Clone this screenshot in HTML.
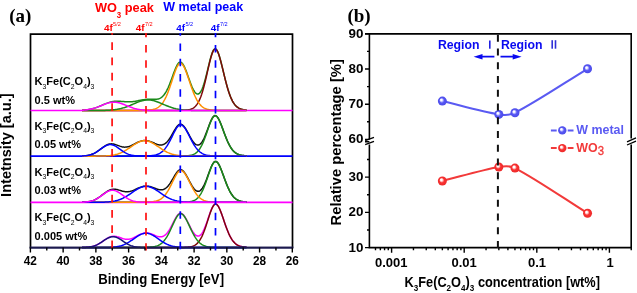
<!DOCTYPE html><html><head><meta charset="utf-8"><style>html,body{margin:0;padding:0;background:#fff;}svg{display:block;will-change:transform;}</style></head><body><svg width="637" height="293" viewBox="0 0 637 293">
<rect width="637" height="293" fill="#fff"/>
<path d="M30.5 247.6V34.1H292.5V247.6" fill="none" stroke="#000" stroke-width="1.7"/>
<line x1="29.7" y1="247.6" x2="293.3" y2="247.6" stroke="#1c1c5a" stroke-width="1.7"/>
<line x1="30.5" y1="110.55" x2="292.5" y2="110.55" stroke="#ff00ff" stroke-width="1.6"/>
<path d="M82.0 110.26L82.7 110.22L83.4 110.17L84.1 110.11L84.8 110.04L85.5 109.97L86.2 109.89L86.9 109.80L87.6 109.70L88.3 109.59L89.0 109.48L89.7 109.35L90.4 109.21L91.1 109.05L91.8 108.89L92.5 108.71L93.2 108.52L93.9 108.32L94.6 108.10L95.3 107.88L96.0 107.64L96.7 107.39L97.4 107.13L98.1 106.86L98.8 106.58L99.5 106.30L100.2 106.01L100.9 105.71L101.6 105.41L102.3 105.11L103.0 104.80L103.7 104.50L104.4 104.21L105.1 103.92L105.8 103.63L106.5 103.36L107.2 103.09L107.9 102.84L108.6 102.60L109.3 102.38L110.0 102.18L110.7 101.99L111.4 101.82L112.1 101.68L112.8 101.55L113.5 101.44L114.2 101.35L114.9 101.28L115.6 101.23L116.3 101.20L117.0 101.19L117.7 101.19L118.4 101.21L119.1 101.24L119.8 101.28L120.5 101.32L121.2 101.38L121.9 101.44L122.6 101.50L123.3 101.56L124.0 101.62L124.7 101.68L125.4 101.73L126.1 101.77L126.8 101.81L127.5 101.83L128.2 101.85L128.9 101.85L129.6 101.83L130.3 101.81L131.0 101.77L131.7 101.72L132.4 101.65L133.1 101.57L133.8 101.48L134.5 101.38L135.2 101.27L135.9 101.15L136.6 101.02L137.3 100.89L138.0 100.75L138.7 100.61L139.4 100.47L140.1 100.33L140.8 100.20L141.5 100.07L142.2 99.95L142.9 99.83L143.6 99.72L144.3 99.63L145.0 99.54L145.7 99.47L146.4 99.41L147.1 99.37L147.8 99.33L148.5 99.31L149.2 99.30L149.9 99.30L150.6 99.31L151.3 99.32L152.0 99.34L152.7 99.35L153.4 99.36L154.1 99.37L154.8 99.36L155.5 99.33L156.2 99.28L156.9 99.20L157.6 99.07L158.3 98.91L159.0 98.69L159.7 98.40L160.4 98.05L161.1 97.62L161.8 97.11L162.5 96.50L163.2 95.79L163.9 94.98L164.6 94.06L165.3 93.02L166.0 91.86L166.7 90.59L167.4 89.21L168.1 87.71L168.8 86.11L169.5 84.42L170.2 82.64L170.9 80.79L171.6 78.89L172.3 76.95L173.0 75.01L173.7 73.09L174.4 71.22L175.1 69.42L175.8 67.75L176.5 66.23L177.2 64.89L177.9 63.79L178.6 62.94L179.3 62.38L180.0 62.12L180.7 62.18L181.4 62.52L182.1 63.13L182.8 64.00L183.5 65.10L184.2 66.42L184.9 67.93L185.6 69.59L186.3 71.37L187.0 73.25L187.7 75.19L188.4 77.15L189.1 79.12L189.8 81.07L190.5 82.96L191.2 84.77L191.9 86.47L192.6 88.06L193.3 89.50L194.0 90.77L194.7 91.86L195.4 92.74L196.1 93.42L196.8 93.86L197.5 94.07L198.2 94.02L198.9 93.72L199.6 93.15L200.3 92.31L201.0 91.21L201.7 89.84L202.4 88.22L203.1 86.34L203.8 84.24L204.5 81.93L205.2 79.43L205.9 76.77L206.6 73.99L207.3 71.13L208.0 68.22L208.7 65.32L209.4 62.49L210.1 59.77L210.8 57.22L211.5 54.91L212.2 52.89L212.9 51.23L213.6 49.97L214.3 49.15L215.0 48.80L215.7 48.93L216.4 49.49L217.1 50.49L217.8 51.88L218.5 53.62L219.2 55.68L219.9 58.01L220.6 60.54L221.3 63.24L222.0 66.06L222.7 68.94L223.4 71.86L224.1 74.76L224.8 77.62L225.5 80.42L226.2 83.11L226.9 85.70L227.6 88.15L228.3 90.46L229.0 92.62L229.7 94.62L230.4 96.46L231.1 98.14L231.8 99.67L232.5 101.05L233.2 102.28L233.9 103.38L234.6 104.35L235.3 105.21L236.0 105.96L236.7 106.61L237.4 107.17L238.1 107.66L238.8 108.08L239.5 108.43L240.2 108.74L240.9 109.00L241.6 109.22L242.3 109.41L243.0 109.57L243.7 109.70L244.4 109.81L245.1 109.91L245.8 109.99L246.5 110.06" fill="none" stroke="#1a8a1a" stroke-width="1.5" stroke-linejoin="round"/>
<path d="M82.0 110.55L82.7 110.55L83.4 110.55L84.1 110.55L84.8 110.55L85.5 110.55L86.2 110.55L86.9 110.55L87.6 110.55L88.3 110.55L89.0 110.55L89.7 110.55L90.4 110.55L91.1 110.55L91.8 110.55L92.5 110.55L93.2 110.55L93.9 110.55L94.6 110.55L95.3 110.55L96.0 110.55L96.7 110.55L97.4 110.55L98.1 110.55L98.8 110.55L99.5 110.55L100.2 110.55L100.9 110.55L101.6 110.55L102.3 110.55L103.0 110.55L103.7 110.55L104.4 110.55L105.1 110.55L105.8 110.55L106.5 110.55L107.2 110.55L107.9 110.55L108.6 110.55L109.3 110.55L110.0 110.55L110.7 110.55L111.4 110.55L112.1 110.55L112.8 110.55L113.5 110.55L114.2 110.55L114.9 110.55L115.6 110.55L116.3 110.55L117.0 110.55L117.7 110.55L118.4 110.55L119.1 110.55L119.8 110.55L120.5 110.55L121.2 110.55L121.9 110.55L122.6 110.55L123.3 110.55L124.0 110.55L124.7 110.55L125.4 110.55L126.1 110.55L126.8 110.55L127.5 110.55L128.2 110.55L128.9 110.55L129.6 110.55L130.3 110.55L131.0 110.55L131.7 110.55L132.4 110.55L133.1 110.55L133.8 110.55L134.5 110.55L135.2 110.55L135.9 110.55L136.6 110.55L137.3 110.55L138.0 110.55L138.7 110.55L139.4 110.55L140.1 110.55L140.8 110.55L141.5 110.55L142.2 110.55L142.9 110.55L143.6 110.55L144.3 110.55L145.0 110.55L145.7 110.55L146.4 110.55L147.1 110.55L147.8 110.55L148.5 110.55L149.2 110.55L149.9 110.55L150.6 110.55L151.3 110.55L152.0 110.55L152.7 110.55L153.4 110.55L154.1 110.55L154.8 110.55L155.5 110.55L156.2 110.55L156.9 110.55L157.6 110.55L158.3 110.55L159.0 110.55L159.7 110.55L160.4 110.55L161.1 110.55L161.8 110.55L162.5 110.54L163.2 110.54L163.9 110.54L164.6 110.54L165.3 110.54L166.0 110.54L166.7 110.54L167.4 110.54L168.1 110.53L168.8 110.53L169.5 110.53L170.2 110.53L170.9 110.52L171.6 110.52L172.3 110.51L173.0 110.51L173.7 110.50L174.4 110.50L175.1 110.49L175.8 110.48L176.5 110.48L177.2 110.47L177.9 110.45L178.6 110.44L179.3 110.43L180.0 110.41L180.7 110.39L181.4 110.37L182.1 110.35L182.8 110.32L183.5 110.29L184.2 110.25L184.9 110.20L185.6 110.15L186.3 110.08L187.0 110.00L187.7 109.91L188.4 109.79L189.1 109.66L189.8 109.49L190.5 109.29L191.2 109.06L191.9 108.77L192.6 108.43L193.3 108.03L194.0 107.55L194.7 106.98L195.4 106.32L196.1 105.55L196.8 104.66L197.5 103.64L198.2 102.47L198.9 101.15L199.6 99.66L200.3 98.00L201.0 96.16L201.7 94.14L202.4 91.94L203.1 89.56L203.8 87.01L204.5 84.31L205.2 81.48L205.9 78.53L206.6 75.50L207.3 72.42L208.0 69.33L208.7 66.28L209.4 63.31L210.1 60.47L210.8 57.83L211.5 55.44L212.2 53.35L212.9 51.63L213.6 50.32L214.3 49.45L215.0 49.07L215.7 49.16L216.4 49.71L217.1 50.67L217.8 52.04L218.5 53.77L219.2 55.82L219.9 58.13L220.6 60.65L221.3 63.34L222.0 66.14L222.7 69.02L223.4 71.92L224.1 74.82L224.8 77.68L225.5 80.47L226.2 83.16L226.9 85.74L227.6 88.19L228.3 90.49L229.0 92.65L229.7 94.64L230.4 96.48L231.1 98.16L231.8 99.69L232.5 101.06L233.2 102.30L233.9 103.39L234.6 104.36L235.3 105.22L236.0 105.97L236.7 106.62L237.4 107.18L238.1 107.67L238.8 108.08L239.5 108.44L240.2 108.74L240.9 109.00L241.6 109.22L242.3 109.41L243.0 109.57L243.7 109.70L244.4 109.82L245.1 109.91L245.8 109.99L246.5 110.06" fill="none" stroke="#7e0808" stroke-width="1.5" stroke-linejoin="round"/>
<path d="M82.0 110.55L82.7 110.55L83.4 110.55L84.1 110.55L84.8 110.55L85.5 110.55L86.2 110.55L86.9 110.55L87.6 110.55L88.3 110.55L89.0 110.55L89.7 110.55L90.4 110.55L91.1 110.55L91.8 110.55L92.5 110.55L93.2 110.55L93.9 110.55L94.6 110.55L95.3 110.55L96.0 110.55L96.7 110.55L97.4 110.55L98.1 110.55L98.8 110.55L99.5 110.55L100.2 110.55L100.9 110.55L101.6 110.55L102.3 110.55L103.0 110.55L103.7 110.55L104.4 110.55L105.1 110.55L105.8 110.55L106.5 110.55L107.2 110.55L107.9 110.55L108.6 110.55L109.3 110.55L110.0 110.55L110.7 110.55L111.4 110.55L112.1 110.55L112.8 110.55L113.5 110.55L114.2 110.55L114.9 110.55L115.6 110.55L116.3 110.55L117.0 110.55L117.7 110.55L118.4 110.55L119.1 110.55L119.8 110.55L120.5 110.55L121.2 110.54L121.9 110.54L122.6 110.54L123.3 110.54L124.0 110.54L124.7 110.54L125.4 110.54L126.1 110.54L126.8 110.54L127.5 110.53L128.2 110.53L128.9 110.53L129.6 110.53L130.3 110.52L131.0 110.52L131.7 110.52L132.4 110.51L133.1 110.51L133.8 110.50L134.5 110.50L135.2 110.49L135.9 110.49L136.6 110.48L137.3 110.47L138.0 110.46L138.7 110.45L139.4 110.44L140.1 110.43L140.8 110.41L141.5 110.40L142.2 110.38L142.9 110.36L143.6 110.34L144.3 110.31L145.0 110.28L145.7 110.25L146.4 110.22L147.1 110.17L147.8 110.13L148.5 110.07L149.2 110.01L149.9 109.93L150.6 109.85L151.3 109.75L152.0 109.63L152.7 109.50L153.4 109.34L154.1 109.16L154.8 108.94L155.5 108.70L156.2 108.41L156.9 108.08L157.6 107.70L158.3 107.26L159.0 106.76L159.7 106.19L160.4 105.55L161.1 104.82L161.8 104.01L162.5 103.10L163.2 102.09L163.9 100.97L164.6 99.75L165.3 98.41L166.0 96.97L166.7 95.41L167.4 93.75L168.1 91.98L168.8 90.11L169.5 88.16L170.2 86.13L170.9 84.05L171.6 81.92L172.3 79.77L173.0 77.63L173.7 75.51L174.4 73.46L175.1 71.49L175.8 69.66L176.5 67.99L177.2 66.52L177.9 65.29L178.6 64.32L179.3 63.65L180.0 63.30L180.7 63.28L181.4 63.54L182.1 64.09L182.8 64.91L183.5 65.98L184.2 67.27L184.9 68.76L185.6 70.42L186.3 72.22L187.0 74.13L187.7 76.13L188.4 78.17L189.1 80.25L189.8 82.33L190.5 84.39L191.2 86.42L191.9 88.39L192.6 90.29L193.3 92.12L194.0 93.86L194.7 95.50L195.4 97.04L196.1 98.47L196.8 99.80L197.5 101.02L198.2 102.13L198.9 103.15L199.6 104.06L200.3 104.88L201.0 105.61L201.7 106.27L202.4 106.84L203.1 107.35L203.8 107.79L204.5 108.17L205.2 108.51L205.9 108.80L206.6 109.05L207.3 109.26L208.0 109.44L208.7 109.60L209.4 109.73L210.1 109.84L210.8 109.94L211.5 110.02L212.2 110.09L212.9 110.15L213.6 110.20L214.3 110.24L215.0 110.28L215.7 110.31L216.4 110.34L217.1 110.36L217.8 110.38L218.5 110.40L219.2 110.42L219.9 110.43L220.6 110.44L221.3 110.45L222.0 110.46L222.7 110.47L223.4 110.48L224.1 110.49L224.8 110.49L225.5 110.50L226.2 110.50L226.9 110.51L227.6 110.51L228.3 110.52L229.0 110.52L229.7 110.52L230.4 110.53L231.1 110.53L231.8 110.53L232.5 110.53L233.2 110.53L233.9 110.54L234.6 110.54L235.3 110.54L236.0 110.54L236.7 110.54L237.4 110.54L238.1 110.54L238.8 110.54L239.5 110.54L240.2 110.55L240.9 110.55L241.6 110.55L242.3 110.55L243.0 110.55L243.7 110.55L244.4 110.55L245.1 110.55L245.8 110.55L246.5 110.55" fill="none" stroke="#ff9000" stroke-width="1.5" stroke-linejoin="round"/>
<path d="M82.0 110.55L82.7 110.55L83.4 110.55L84.1 110.55L84.8 110.55L85.5 110.55L86.2 110.55L86.9 110.55L87.6 110.55L88.3 110.55L89.0 110.55L89.7 110.55L90.4 110.54L91.1 110.54L91.8 110.54L92.5 110.54L93.2 110.54L93.9 110.54L94.6 110.53L95.3 110.53L96.0 110.53L96.7 110.52L97.4 110.52L98.1 110.51L98.8 110.51L99.5 110.50L100.2 110.49L100.9 110.48L101.6 110.47L102.3 110.46L103.0 110.44L103.7 110.43L104.4 110.41L105.1 110.39L105.8 110.36L106.5 110.34L107.2 110.31L107.9 110.27L108.6 110.23L109.3 110.19L110.0 110.15L110.7 110.10L111.4 110.04L112.1 109.98L112.8 109.91L113.5 109.83L114.2 109.75L114.9 109.66L115.6 109.56L116.3 109.46L117.0 109.35L117.7 109.22L118.4 109.09L119.1 108.95L119.8 108.80L120.5 108.64L121.2 108.46L121.9 108.28L122.6 108.09L123.3 107.89L124.0 107.67L124.7 107.45L125.4 107.21L126.1 106.97L126.8 106.72L127.5 106.46L128.2 106.19L128.9 105.91L129.6 105.62L130.3 105.33L131.0 105.04L131.7 104.74L132.4 104.44L133.1 104.14L133.8 103.83L134.5 103.53L135.2 103.23L135.9 102.94L136.6 102.65L137.3 102.37L138.0 102.10L138.7 101.83L139.4 101.58L140.1 101.35L140.8 101.12L141.5 100.92L142.2 100.73L142.9 100.56L143.6 100.40L144.3 100.27L145.0 100.16L145.7 100.08L146.4 100.01L147.1 99.97L147.8 99.95L148.5 99.96L149.2 99.98L149.9 100.04L150.6 100.11L151.3 100.21L152.0 100.33L152.7 100.47L153.4 100.63L154.1 100.81L154.8 101.00L155.5 101.22L156.2 101.45L156.9 101.69L157.6 101.95L158.3 102.21L159.0 102.49L159.7 102.77L160.4 103.07L161.1 103.36L161.8 103.66L162.5 103.96L163.2 104.27L163.9 104.57L164.6 104.87L165.3 105.17L166.0 105.46L166.7 105.75L167.4 106.03L168.1 106.30L168.8 106.57L169.5 106.83L170.2 107.08L170.9 107.32L171.6 107.55L172.3 107.76L173.0 107.97L173.7 108.17L174.4 108.36L175.1 108.54L175.8 108.71L176.5 108.86L177.2 109.01L177.9 109.15L178.6 109.28L179.3 109.40L180.0 109.51L180.7 109.61L181.4 109.70L182.1 109.79L182.8 109.87L183.5 109.94L184.2 110.00L184.9 110.06L185.6 110.12L186.3 110.17L187.0 110.21L187.7 110.25L188.4 110.29L189.1 110.32L189.8 110.35L190.5 110.37L191.2 110.39L191.9 110.41L192.6 110.43L193.3 110.45L194.0 110.46L194.7 110.47L195.4 110.48L196.1 110.49L196.8 110.50L197.5 110.51L198.2 110.51L198.9 110.52L199.6 110.52L200.3 110.53L201.0 110.53L201.7 110.53L202.4 110.54L203.1 110.54L203.8 110.54L204.5 110.54L205.2 110.54L205.9 110.54L206.6 110.55L207.3 110.55L208.0 110.55L208.7 110.55L209.4 110.55L210.1 110.55L210.8 110.55L211.5 110.55L212.2 110.55L212.9 110.55L213.6 110.55L214.3 110.55L215.0 110.55L215.7 110.55L216.4 110.55L217.1 110.55L217.8 110.55L218.5 110.55L219.2 110.55L219.9 110.55L220.6 110.55L221.3 110.55L222.0 110.55L222.7 110.55L223.4 110.55L224.1 110.55L224.8 110.55L225.5 110.55L226.2 110.55L226.9 110.55L227.6 110.55L228.3 110.55L229.0 110.55L229.7 110.55L230.4 110.55L231.1 110.55L231.8 110.55L232.5 110.55L233.2 110.55L233.9 110.55L234.6 110.55L235.3 110.55L236.0 110.55L236.7 110.55L237.4 110.55L238.1 110.55L238.8 110.55L239.5 110.55L240.2 110.55L240.9 110.55L241.6 110.55L242.3 110.55L243.0 110.55L243.7 110.55L244.4 110.55L245.1 110.55L245.8 110.55L246.5 110.55" fill="none" stroke="#1a8a1a" stroke-width="1.5" stroke-linejoin="round"/>
<path d="M82.0 110.26L82.7 110.22L83.4 110.17L84.1 110.11L84.8 110.04L85.5 109.97L86.2 109.89L86.9 109.80L87.6 109.71L88.3 109.60L89.0 109.48L89.7 109.35L90.4 109.21L91.1 109.06L91.8 108.90L92.5 108.72L93.2 108.53L93.9 108.33L94.6 108.12L95.3 107.90L96.0 107.66L96.7 107.42L97.4 107.16L98.1 106.90L98.8 106.63L99.5 106.35L100.2 106.07L100.9 105.78L101.6 105.49L102.3 105.20L103.0 104.91L103.7 104.63L104.4 104.35L105.1 104.08L105.8 103.82L106.5 103.57L107.2 103.34L107.9 103.12L108.6 102.92L109.3 102.74L110.0 102.58L110.7 102.45L111.4 102.34L112.1 102.25L112.8 102.19L113.5 102.16L114.2 102.15L114.9 102.17L115.6 102.22L116.3 102.30L117.0 102.40L117.7 102.52L118.4 102.67L119.1 102.84L119.8 103.03L120.5 103.24L121.2 103.47L121.9 103.71L122.6 103.97L123.3 104.23L124.0 104.51L124.7 104.79L125.4 105.08L126.1 105.37L126.8 105.66L127.5 105.94L128.2 106.23L128.9 106.51L129.6 106.78L130.3 107.05L131.0 107.31L131.7 107.56L132.4 107.80L133.1 108.03L133.8 108.24L134.5 108.45L135.2 108.64L135.9 108.82L136.6 108.99L137.3 109.15L138.0 109.29L138.7 109.43L139.4 109.55L140.1 109.66L140.8 109.76L141.5 109.86L142.2 109.94L142.9 110.01L143.6 110.08L144.3 110.14L145.0 110.20L145.7 110.24L146.4 110.29L147.1 110.32L147.8 110.36L148.5 110.38L149.2 110.41L149.9 110.43L150.6 110.45L151.3 110.46L152.0 110.48L152.7 110.49L153.4 110.50L154.1 110.51L154.8 110.52L155.5 110.52L156.2 110.53L156.9 110.53L157.6 110.53L158.3 110.54L159.0 110.54L159.7 110.54L160.4 110.54L161.1 110.54L161.8 110.55L162.5 110.55L163.2 110.55L163.9 110.55L164.6 110.55L165.3 110.55L166.0 110.55L166.7 110.55L167.4 110.55L168.1 110.55L168.8 110.55L169.5 110.55L170.2 110.55L170.9 110.55L171.6 110.55L172.3 110.55L173.0 110.55L173.7 110.55L174.4 110.55L175.1 110.55L175.8 110.55L176.5 110.55L177.2 110.55L177.9 110.55L178.6 110.55L179.3 110.55L180.0 110.55L180.7 110.55L181.4 110.55L182.1 110.55L182.8 110.55L183.5 110.55L184.2 110.55L184.9 110.55L185.6 110.55L186.3 110.55L187.0 110.55L187.7 110.55L188.4 110.55L189.1 110.55L189.8 110.55L190.5 110.55L191.2 110.55L191.9 110.55L192.6 110.55L193.3 110.55L194.0 110.55L194.7 110.55L195.4 110.55L196.1 110.55L196.8 110.55L197.5 110.55L198.2 110.55L198.9 110.55L199.6 110.55L200.3 110.55L201.0 110.55L201.7 110.55L202.4 110.55L203.1 110.55L203.8 110.55L204.5 110.55L205.2 110.55L205.9 110.55L206.6 110.55L207.3 110.55L208.0 110.55L208.7 110.55L209.4 110.55L210.1 110.55L210.8 110.55L211.5 110.55L212.2 110.55L212.9 110.55L213.6 110.55L214.3 110.55L215.0 110.55L215.7 110.55L216.4 110.55L217.1 110.55L217.8 110.55L218.5 110.55L219.2 110.55L219.9 110.55L220.6 110.55L221.3 110.55L222.0 110.55L222.7 110.55L223.4 110.55L224.1 110.55L224.8 110.55L225.5 110.55L226.2 110.55L226.9 110.55L227.6 110.55L228.3 110.55L229.0 110.55L229.7 110.55L230.4 110.55L231.1 110.55L231.8 110.55L232.5 110.55L233.2 110.55L233.9 110.55L234.6 110.55L235.3 110.55L236.0 110.55L236.7 110.55L237.4 110.55L238.1 110.55L238.8 110.55L239.5 110.55L240.2 110.55L240.9 110.55L241.6 110.55L242.3 110.55L243.0 110.55L243.7 110.55L244.4 110.55L245.1 110.55L245.8 110.55L246.5 110.55" fill="none" stroke="#ff00ff" stroke-width="1.5" stroke-linejoin="round"/>
<line x1="30.5" y1="156.15" x2="292.5" y2="156.15" stroke="#0000ff" stroke-width="1.6"/>
<path d="M82.0 156.00L82.7 155.96L83.4 155.92L84.1 155.87L84.8 155.81L85.5 155.74L86.2 155.65L86.9 155.55L87.6 155.44L88.3 155.31L89.0 155.16L89.7 154.99L90.4 154.79L91.1 154.58L91.8 154.33L92.5 154.06L93.2 153.77L93.9 153.44L94.6 153.09L95.3 152.71L96.0 152.30L96.7 151.87L97.4 151.41L98.1 150.94L98.8 150.44L99.5 149.93L100.2 149.41L100.9 148.88L101.6 148.36L102.3 147.84L103.0 147.32L103.7 146.83L104.4 146.36L105.1 145.91L105.8 145.50L106.5 145.13L107.2 144.80L107.9 144.51L108.6 144.28L109.3 144.09L110.0 143.96L110.7 143.88L111.4 143.86L112.1 143.88L112.8 143.95L113.5 144.07L114.2 144.22L114.9 144.41L115.6 144.62L116.3 144.86L117.0 145.12L117.7 145.38L118.4 145.64L119.1 145.90L119.8 146.15L120.5 146.38L121.2 146.59L121.9 146.76L122.6 146.91L123.3 147.02L124.0 147.10L124.7 147.13L125.4 147.12L126.1 147.08L126.8 146.98L127.5 146.85L128.2 146.68L128.9 146.48L129.6 146.24L130.3 145.97L131.0 145.67L131.7 145.35L132.4 145.02L133.1 144.67L133.8 144.31L134.5 143.94L135.2 143.57L135.9 143.21L136.6 142.86L137.3 142.51L138.0 142.19L138.7 141.88L139.4 141.60L140.1 141.34L140.8 141.11L141.5 140.92L142.2 140.75L142.9 140.63L143.6 140.54L144.3 140.48L145.0 140.47L145.7 140.49L146.4 140.55L147.1 140.64L147.8 140.77L148.5 140.93L149.2 141.13L149.9 141.35L150.6 141.59L151.3 141.86L152.0 142.14L152.7 142.44L153.4 142.75L154.1 143.06L154.8 143.37L155.5 143.66L156.2 143.95L156.9 144.21L157.6 144.45L158.3 144.66L159.0 144.82L159.7 144.94L160.4 145.00L161.1 145.00L161.8 144.94L162.5 144.80L163.2 144.59L163.9 144.29L164.6 143.91L165.3 143.43L166.0 142.87L166.7 142.21L167.4 141.47L168.1 140.63L168.8 139.71L169.5 138.72L170.2 137.65L170.9 136.52L171.6 135.35L172.3 134.13L173.0 132.90L173.7 131.67L174.4 130.45L175.1 129.28L175.8 128.17L176.5 127.15L177.2 126.24L177.9 125.47L178.6 124.86L179.3 124.44L180.0 124.21L180.7 124.19L181.4 124.35L182.1 124.70L182.8 125.23L183.5 125.91L184.2 126.74L184.9 127.69L185.6 128.75L186.3 129.91L187.0 131.13L187.7 132.39L188.4 133.68L189.1 134.98L189.8 136.26L190.5 137.52L191.2 138.72L191.9 139.86L192.6 140.92L193.3 141.89L194.0 142.75L194.7 143.49L195.4 144.10L196.1 144.57L196.8 144.89L197.5 145.05L198.2 145.05L198.9 144.87L199.6 144.52L200.3 143.99L201.0 143.29L201.7 142.41L202.4 141.35L203.1 140.14L203.8 138.77L204.5 137.27L205.2 135.64L205.9 133.90L206.6 132.08L207.3 130.21L208.0 128.31L208.7 126.41L209.4 124.55L210.1 122.76L210.8 121.10L211.5 119.58L212.2 118.26L212.9 117.17L213.6 116.34L214.3 115.80L215.0 115.58L215.7 115.66L216.4 116.04L217.1 116.69L217.8 117.60L218.5 118.75L219.2 120.10L219.9 121.63L220.6 123.30L221.3 125.07L222.0 126.92L222.7 128.82L223.4 130.73L224.1 132.64L224.8 134.52L225.5 136.35L226.2 138.13L226.9 139.82L227.6 141.43L228.3 142.95L229.0 144.37L229.7 145.68L230.4 146.89L231.1 148.00L231.8 149.00L232.5 149.91L233.2 150.72L233.9 151.44L234.6 152.08L235.3 152.64L236.0 153.13L236.7 153.56L237.4 153.93L238.1 154.25L238.8 154.53L239.5 154.76L240.2 154.96L240.9 155.13L241.6 155.28L242.3 155.40L243.0 155.50L243.7 155.59L244.4 155.67L245.1 155.73L245.8 155.78L246.5 155.83" fill="none" stroke="#111111" stroke-width="1.5" stroke-linejoin="round"/>
<path d="M82.0 156.15L82.7 156.15L83.4 156.15L84.1 156.15L84.8 156.15L85.5 156.15L86.2 156.15L86.9 156.15L87.6 156.15L88.3 156.15L89.0 156.15L89.7 156.15L90.4 156.15L91.1 156.15L91.8 156.15L92.5 156.15L93.2 156.15L93.9 156.15L94.6 156.15L95.3 156.15L96.0 156.15L96.7 156.15L97.4 156.15L98.1 156.15L98.8 156.15L99.5 156.15L100.2 156.15L100.9 156.15L101.6 156.15L102.3 156.15L103.0 156.15L103.7 156.15L104.4 156.15L105.1 156.15L105.8 156.15L106.5 156.15L107.2 156.15L107.9 156.15L108.6 156.15L109.3 156.15L110.0 156.15L110.7 156.15L111.4 156.15L112.1 156.15L112.8 156.15L113.5 156.15L114.2 156.15L114.9 156.15L115.6 156.15L116.3 156.15L117.0 156.15L117.7 156.15L118.4 156.15L119.1 156.15L119.8 156.15L120.5 156.15L121.2 156.15L121.9 156.15L122.6 156.15L123.3 156.15L124.0 156.15L124.7 156.15L125.4 156.15L126.1 156.15L126.8 156.15L127.5 156.15L128.2 156.15L128.9 156.15L129.6 156.15L130.3 156.15L131.0 156.15L131.7 156.15L132.4 156.15L133.1 156.15L133.8 156.15L134.5 156.15L135.2 156.15L135.9 156.15L136.6 156.15L137.3 156.15L138.0 156.15L138.7 156.15L139.4 156.15L140.1 156.15L140.8 156.15L141.5 156.15L142.2 156.15L142.9 156.15L143.6 156.15L144.3 156.15L145.0 156.15L145.7 156.15L146.4 156.15L147.1 156.15L147.8 156.15L148.5 156.15L149.2 156.15L149.9 156.15L150.6 156.15L151.3 156.15L152.0 156.15L152.7 156.15L153.4 156.15L154.1 156.15L154.8 156.15L155.5 156.15L156.2 156.15L156.9 156.15L157.6 156.15L158.3 156.15L159.0 156.15L159.7 156.15L160.4 156.15L161.1 156.15L161.8 156.15L162.5 156.15L163.2 156.15L163.9 156.15L164.6 156.14L165.3 156.14L166.0 156.14L166.7 156.14L167.4 156.14L168.1 156.14L168.8 156.14L169.5 156.14L170.2 156.13L170.9 156.13L171.6 156.13L172.3 156.13L173.0 156.12L173.7 156.12L174.4 156.12L175.1 156.11L175.8 156.11L176.5 156.10L177.2 156.09L177.9 156.09L178.6 156.08L179.3 156.07L180.0 156.06L180.7 156.05L181.4 156.03L182.1 156.02L182.8 156.00L183.5 155.98L184.2 155.95L184.9 155.92L185.6 155.89L186.3 155.84L187.0 155.79L187.7 155.73L188.4 155.65L189.1 155.56L189.8 155.46L190.5 155.33L191.2 155.17L191.9 154.98L192.6 154.76L193.3 154.49L194.0 154.18L194.7 153.81L195.4 153.37L196.1 152.87L196.8 152.28L197.5 151.61L198.2 150.84L198.9 149.98L199.6 149.00L200.3 147.91L201.0 146.70L201.7 145.37L202.4 143.92L203.1 142.36L203.8 140.69L204.5 138.91L205.2 137.05L205.9 135.12L206.6 133.13L207.3 131.10L208.0 129.07L208.7 127.07L209.4 125.12L210.1 123.25L210.8 121.52L211.5 119.95L212.2 118.58L212.9 117.44L213.6 116.58L214.3 116.02L215.0 115.76L215.7 115.83L216.4 116.18L217.1 116.82L217.8 117.72L218.5 118.85L219.2 120.19L219.9 121.71L220.6 123.37L221.3 125.14L222.0 126.98L222.7 128.87L223.4 130.78L224.1 132.68L224.8 134.56L225.5 136.39L226.2 138.16L226.9 139.85L227.6 141.46L228.3 142.97L229.0 144.39L229.7 145.70L230.4 146.91L231.1 148.01L231.8 149.01L232.5 149.92L233.2 150.73L233.9 151.45L234.6 152.09L235.3 152.65L236.0 153.14L236.7 153.57L237.4 153.94L238.1 154.26L238.8 154.53L239.5 154.76L240.2 154.96L240.9 155.13L241.6 155.28L242.3 155.40L243.0 155.51L243.7 155.59L244.4 155.67L245.1 155.73L245.8 155.78L246.5 155.83" fill="none" stroke="#1a8a1a" stroke-width="1.5" stroke-linejoin="round"/>
<path d="M82.0 156.15L82.7 156.15L83.4 156.15L84.1 156.15L84.8 156.15L85.5 156.15L86.2 156.15L86.9 156.15L87.6 156.15L88.3 156.15L89.0 156.15L89.7 156.15L90.4 156.15L91.1 156.15L91.8 156.15L92.5 156.15L93.2 156.15L93.9 156.15L94.6 156.15L95.3 156.15L96.0 156.15L96.7 156.15L97.4 156.15L98.1 156.15L98.8 156.15L99.5 156.15L100.2 156.15L100.9 156.15L101.6 156.15L102.3 156.15L103.0 156.15L103.7 156.15L104.4 156.15L105.1 156.15L105.8 156.15L106.5 156.15L107.2 156.15L107.9 156.15L108.6 156.15L109.3 156.15L110.0 156.15L110.7 156.15L111.4 156.15L112.1 156.15L112.8 156.15L113.5 156.15L114.2 156.15L114.9 156.15L115.6 156.15L116.3 156.15L117.0 156.15L117.7 156.15L118.4 156.15L119.1 156.15L119.8 156.15L120.5 156.15L121.2 156.15L121.9 156.15L122.6 156.15L123.3 156.14L124.0 156.14L124.7 156.14L125.4 156.14L126.1 156.14L126.8 156.14L127.5 156.14L128.2 156.14L128.9 156.14L129.6 156.14L130.3 156.13L131.0 156.13L131.7 156.13L132.4 156.13L133.1 156.12L133.8 156.12L134.5 156.12L135.2 156.11L135.9 156.11L136.6 156.10L137.3 156.10L138.0 156.09L138.7 156.09L139.4 156.08L140.1 156.07L140.8 156.06L141.5 156.05L142.2 156.04L142.9 156.03L143.6 156.01L144.3 156.00L145.0 155.98L145.7 155.96L146.4 155.94L147.1 155.91L147.8 155.88L148.5 155.84L149.2 155.80L149.9 155.75L150.6 155.70L151.3 155.64L152.0 155.56L152.7 155.48L153.4 155.38L154.1 155.26L154.8 155.13L155.5 154.97L156.2 154.79L156.9 154.57L157.6 154.33L158.3 154.05L159.0 153.73L159.7 153.37L160.4 152.96L161.1 152.49L161.8 151.97L162.5 151.38L163.2 150.73L163.9 150.01L164.6 149.22L165.3 148.35L166.0 147.41L166.7 146.40L167.4 145.32L168.1 144.16L168.8 142.94L169.5 141.66L170.2 140.33L170.9 138.96L171.6 137.55L172.3 136.13L173.0 134.70L173.7 133.29L174.4 131.91L175.1 130.59L175.8 129.34L176.5 128.20L177.2 127.18L177.9 126.32L178.6 125.62L179.3 125.12L180.0 124.83L180.7 124.75L181.4 124.88L182.1 125.19L182.8 125.68L183.5 126.34L184.2 127.16L184.9 128.11L185.6 129.19L186.3 130.36L187.0 131.61L187.7 132.92L188.4 134.27L189.1 135.64L189.8 137.02L190.5 138.39L191.2 139.75L191.9 141.07L192.6 142.35L193.3 143.58L194.0 144.75L194.7 145.85L195.4 146.90L196.1 147.87L196.8 148.77L197.5 149.60L198.2 150.36L198.9 151.05L199.6 151.67L200.3 152.24L201.0 152.74L201.7 153.19L202.4 153.58L203.1 153.93L203.8 154.24L204.5 154.50L205.2 154.74L205.9 154.94L206.6 155.11L207.3 155.26L208.0 155.38L208.7 155.49L209.4 155.58L210.1 155.66L210.8 155.73L211.5 155.79L212.2 155.83L212.9 155.87L213.6 155.91L214.3 155.94L215.0 155.96L215.7 155.99L216.4 156.01L217.1 156.02L217.8 156.04L218.5 156.05L219.2 156.06L219.9 156.07L220.6 156.08L221.3 156.08L222.0 156.09L222.7 156.10L223.4 156.10L224.1 156.11L224.8 156.11L225.5 156.12L226.2 156.12L226.9 156.12L227.6 156.12L228.3 156.13L229.0 156.13L229.7 156.13L230.4 156.13L231.1 156.14L231.8 156.14L232.5 156.14L233.2 156.14L233.9 156.14L234.6 156.14L235.3 156.14L236.0 156.14L236.7 156.14L237.4 156.14L238.1 156.15L238.8 156.15L239.5 156.15L240.2 156.15L240.9 156.15L241.6 156.15L242.3 156.15L243.0 156.15L243.7 156.15L244.4 156.15L245.1 156.15L245.8 156.15L246.5 156.15" fill="none" stroke="#0000ff" stroke-width="1.5" stroke-linejoin="round"/>
<path d="M82.0 156.15L82.7 156.15L83.4 156.15L84.1 156.15L84.8 156.15L85.5 156.15L86.2 156.15L86.9 156.15L87.6 156.15L88.3 156.15L89.0 156.15L89.7 156.15L90.4 156.14L91.1 156.14L91.8 156.14L92.5 156.14L93.2 156.14L93.9 156.14L94.6 156.13L95.3 156.13L96.0 156.12L96.7 156.12L97.4 156.11L98.1 156.11L98.8 156.10L99.5 156.09L100.2 156.08L100.9 156.06L101.6 156.05L102.3 156.03L103.0 156.01L103.7 155.99L104.4 155.96L105.1 155.93L105.8 155.89L106.5 155.85L107.2 155.81L107.9 155.75L108.6 155.70L109.3 155.63L110.0 155.56L110.7 155.47L111.4 155.38L112.1 155.28L112.8 155.16L113.5 155.04L114.2 154.90L114.9 154.75L115.6 154.58L116.3 154.40L117.0 154.21L117.7 154.00L118.4 153.77L119.1 153.52L119.8 153.26L120.5 152.98L121.2 152.68L121.9 152.36L122.6 152.02L123.3 151.66L124.0 151.29L124.7 150.90L125.4 150.50L126.1 150.08L126.8 149.64L127.5 149.19L128.2 148.73L128.9 148.27L129.6 147.79L130.3 147.31L131.0 146.83L131.7 146.34L132.4 145.86L133.1 145.38L133.8 144.91L134.5 144.46L135.2 144.01L135.9 143.58L136.6 143.17L137.3 142.79L138.0 142.42L138.7 142.09L139.4 141.79L140.1 141.51L140.8 141.28L141.5 141.07L142.2 140.91L142.9 140.79L143.6 140.70L144.3 140.66L145.0 140.65L145.7 140.69L146.4 140.77L147.1 140.89L147.8 141.05L148.5 141.24L149.2 141.48L149.9 141.74L150.6 142.04L151.3 142.37L152.0 142.73L152.7 143.12L153.4 143.52L154.1 143.95L154.8 144.39L155.5 144.85L156.2 145.32L156.9 145.79L157.6 146.27L158.3 146.76L159.0 147.24L159.7 147.72L160.4 148.20L161.1 148.67L161.8 149.13L162.5 149.58L163.2 150.01L163.9 150.44L164.6 150.85L165.3 151.24L166.0 151.61L166.7 151.97L167.4 152.31L168.1 152.63L168.8 152.93L169.5 153.22L170.2 153.48L170.9 153.73L171.6 153.97L172.3 154.18L173.0 154.38L173.7 154.56L174.4 154.73L175.1 154.88L175.8 155.02L176.5 155.15L177.2 155.26L177.9 155.37L178.6 155.46L179.3 155.54L180.0 155.62L180.7 155.69L181.4 155.75L182.1 155.80L182.8 155.85L183.5 155.89L184.2 155.92L184.9 155.96L185.6 155.98L186.3 156.01L187.0 156.03L187.7 156.05L188.4 156.06L189.1 156.08L189.8 156.09L190.5 156.10L191.2 156.11L191.9 156.11L192.6 156.12L193.3 156.12L194.0 156.13L194.7 156.13L195.4 156.14L196.1 156.14L196.8 156.14L197.5 156.14L198.2 156.14L198.9 156.14L199.6 156.15L200.3 156.15L201.0 156.15L201.7 156.15L202.4 156.15L203.1 156.15L203.8 156.15L204.5 156.15L205.2 156.15L205.9 156.15L206.6 156.15L207.3 156.15L208.0 156.15L208.7 156.15L209.4 156.15L210.1 156.15L210.8 156.15L211.5 156.15L212.2 156.15L212.9 156.15L213.6 156.15L214.3 156.15L215.0 156.15L215.7 156.15L216.4 156.15L217.1 156.15L217.8 156.15L218.5 156.15L219.2 156.15L219.9 156.15L220.6 156.15L221.3 156.15L222.0 156.15L222.7 156.15L223.4 156.15L224.1 156.15L224.8 156.15L225.5 156.15L226.2 156.15L226.9 156.15L227.6 156.15L228.3 156.15L229.0 156.15L229.7 156.15L230.4 156.15L231.1 156.15L231.8 156.15L232.5 156.15L233.2 156.15L233.9 156.15L234.6 156.15L235.3 156.15L236.0 156.15L236.7 156.15L237.4 156.15L238.1 156.15L238.8 156.15L239.5 156.15L240.2 156.15L240.9 156.15L241.6 156.15L242.3 156.15L243.0 156.15L243.7 156.15L244.4 156.15L245.1 156.15L245.8 156.15L246.5 156.15" fill="none" stroke="#ff9000" stroke-width="1.5" stroke-linejoin="round"/>
<path d="M82.0 156.00L82.7 155.96L83.4 155.92L84.1 155.87L84.8 155.81L85.5 155.74L86.2 155.65L86.9 155.56L87.6 155.44L88.3 155.31L89.0 155.16L89.7 154.99L90.4 154.80L91.1 154.58L91.8 154.34L92.5 154.07L93.2 153.78L93.9 153.46L94.6 153.11L95.3 152.73L96.0 152.33L96.7 151.90L97.4 151.45L98.1 150.98L98.8 150.49L99.5 149.99L100.2 149.48L100.9 148.97L101.6 148.46L102.3 147.95L103.0 147.46L103.7 146.99L104.4 146.55L105.1 146.13L105.8 145.76L106.5 145.42L107.2 145.14L107.9 144.91L108.6 144.73L109.3 144.61L110.0 144.56L110.7 144.56L111.4 144.63L112.1 144.75L112.8 144.94L113.5 145.18L114.2 145.47L114.9 145.81L115.6 146.19L116.3 146.61L117.0 147.06L117.7 147.53L118.4 148.03L119.1 148.53L119.8 149.04L120.5 149.56L121.2 150.06L121.9 150.56L122.6 151.05L123.3 151.52L124.0 151.96L124.7 152.39L125.4 152.79L126.1 153.16L126.8 153.50L127.5 153.82L128.2 154.11L128.9 154.38L129.6 154.61L130.3 154.83L131.0 155.02L131.7 155.18L132.4 155.33L133.1 155.46L133.8 155.57L134.5 155.67L135.2 155.75L135.9 155.82L136.6 155.88L137.3 155.93L138.0 155.97L138.7 156.00L139.4 156.03L140.1 156.06L140.8 156.08L141.5 156.09L142.2 156.10L142.9 156.11L143.6 156.12L144.3 156.13L145.0 156.13L145.7 156.14L146.4 156.14L147.1 156.14L147.8 156.14L148.5 156.15L149.2 156.15L149.9 156.15L150.6 156.15L151.3 156.15L152.0 156.15L152.7 156.15L153.4 156.15L154.1 156.15L154.8 156.15L155.5 156.15L156.2 156.15L156.9 156.15L157.6 156.15L158.3 156.15L159.0 156.15L159.7 156.15L160.4 156.15L161.1 156.15L161.8 156.15L162.5 156.15L163.2 156.15L163.9 156.15L164.6 156.15L165.3 156.15L166.0 156.15L166.7 156.15L167.4 156.15L168.1 156.15L168.8 156.15L169.5 156.15L170.2 156.15L170.9 156.15L171.6 156.15L172.3 156.15L173.0 156.15L173.7 156.15L174.4 156.15L175.1 156.15L175.8 156.15L176.5 156.15L177.2 156.15L177.9 156.15L178.6 156.15L179.3 156.15L180.0 156.15L180.7 156.15L181.4 156.15L182.1 156.15L182.8 156.15L183.5 156.15L184.2 156.15L184.9 156.15L185.6 156.15L186.3 156.15L187.0 156.15L187.7 156.15L188.4 156.15L189.1 156.15L189.8 156.15L190.5 156.15L191.2 156.15L191.9 156.15L192.6 156.15L193.3 156.15L194.0 156.15L194.7 156.15L195.4 156.15L196.1 156.15L196.8 156.15L197.5 156.15L198.2 156.15L198.9 156.15L199.6 156.15L200.3 156.15L201.0 156.15L201.7 156.15L202.4 156.15L203.1 156.15L203.8 156.15L204.5 156.15L205.2 156.15L205.9 156.15L206.6 156.15L207.3 156.15L208.0 156.15L208.7 156.15L209.4 156.15L210.1 156.15L210.8 156.15L211.5 156.15L212.2 156.15L212.9 156.15L213.6 156.15L214.3 156.15L215.0 156.15L215.7 156.15L216.4 156.15L217.1 156.15L217.8 156.15L218.5 156.15L219.2 156.15L219.9 156.15L220.6 156.15L221.3 156.15L222.0 156.15L222.7 156.15L223.4 156.15L224.1 156.15L224.8 156.15L225.5 156.15L226.2 156.15L226.9 156.15L227.6 156.15L228.3 156.15L229.0 156.15L229.7 156.15L230.4 156.15L231.1 156.15L231.8 156.15L232.5 156.15L233.2 156.15L233.9 156.15L234.6 156.15L235.3 156.15L236.0 156.15L236.7 156.15L237.4 156.15L238.1 156.15L238.8 156.15L239.5 156.15L240.2 156.15L240.9 156.15L241.6 156.15L242.3 156.15L243.0 156.15L243.7 156.15L244.4 156.15L245.1 156.15L245.8 156.15L246.5 156.15" fill="none" stroke="#0000ff" stroke-width="1.5" stroke-linejoin="round"/>
<line x1="30.5" y1="202.35" x2="292.5" y2="202.35" stroke="#ff00ff" stroke-width="1.6"/>
<path d="M82.0 202.23L82.7 202.20L83.4 202.17L84.1 202.12L84.8 202.08L85.5 202.02L86.2 201.95L86.9 201.87L87.6 201.78L88.3 201.68L89.0 201.55L89.7 201.41L90.4 201.26L91.1 201.08L91.8 200.88L92.5 200.65L93.2 200.41L93.9 200.13L94.6 199.83L95.3 199.50L96.0 199.15L96.7 198.77L97.4 198.36L98.1 197.93L98.8 197.48L99.5 197.00L100.2 196.51L100.9 196.00L101.6 195.47L102.3 194.94L103.0 194.41L103.7 193.88L104.4 193.36L105.1 192.84L105.8 192.35L106.5 191.87L107.2 191.43L107.9 191.01L108.6 190.63L109.3 190.30L110.0 190.00L110.7 189.75L111.4 189.55L112.1 189.40L112.8 189.29L113.5 189.23L114.2 189.22L114.9 189.26L115.6 189.33L116.3 189.44L117.0 189.58L117.7 189.74L118.4 189.93L119.1 190.14L119.8 190.35L120.5 190.56L121.2 190.77L121.9 190.98L122.6 191.17L123.3 191.34L124.0 191.49L124.7 191.61L125.4 191.69L126.1 191.75L126.8 191.77L127.5 191.76L128.2 191.70L128.9 191.62L129.6 191.49L130.3 191.34L131.0 191.15L131.7 190.93L132.4 190.68L133.1 190.42L133.8 190.13L134.5 189.83L135.2 189.51L135.9 189.19L136.6 188.87L137.3 188.55L138.0 188.24L138.7 187.93L139.4 187.64L140.1 187.36L140.8 187.11L141.5 186.88L142.2 186.67L142.9 186.50L143.6 186.35L144.3 186.24L145.0 186.16L145.7 186.12L146.4 186.11L147.1 186.13L147.8 186.19L148.5 186.28L149.2 186.41L149.9 186.56L150.6 186.74L151.3 186.95L152.0 187.17L152.7 187.42L153.4 187.68L154.1 187.94L154.8 188.21L155.5 188.48L156.2 188.75L156.9 188.99L157.6 189.22L158.3 189.42L159.0 189.59L159.7 189.72L160.4 189.80L161.1 189.83L161.8 189.79L162.5 189.69L163.2 189.52L163.9 189.27L164.6 188.93L165.3 188.51L166.0 188.00L166.7 187.40L167.4 186.71L168.1 185.93L168.8 185.06L169.5 184.12L170.2 183.10L170.9 182.02L171.6 180.89L172.3 179.71L173.0 178.51L173.7 177.31L174.4 176.11L175.1 174.95L175.8 173.84L176.5 172.82L177.2 171.90L177.9 171.11L178.6 170.48L179.3 170.03L180.0 169.77L180.7 169.71L181.4 169.85L182.1 170.18L182.8 170.68L183.5 171.35L184.2 172.16L184.9 173.12L185.6 174.18L186.3 175.34L187.0 176.57L187.7 177.86L188.4 179.17L189.1 180.50L189.8 181.82L190.5 183.11L191.2 184.36L191.9 185.55L192.6 186.67L193.3 187.70L194.0 188.62L194.7 189.43L195.4 190.11L196.1 190.65L196.8 191.04L197.5 191.28L198.2 191.35L198.9 191.26L199.6 190.99L200.3 190.54L201.0 189.92L201.7 189.11L202.4 188.14L203.1 186.99L203.8 185.69L204.5 184.24L205.2 182.65L205.9 180.95L206.6 179.15L207.3 177.28L208.0 175.36L208.7 173.43L209.4 171.53L210.1 169.67L210.8 167.91L211.5 166.29L212.2 164.83L212.9 163.59L213.6 162.60L214.3 161.89L215.0 161.47L215.7 161.38L216.4 161.59L217.1 162.09L217.8 162.87L218.5 163.89L219.2 165.15L219.9 166.59L220.6 168.20L221.3 169.93L222.0 171.76L222.7 173.65L223.4 175.57L224.1 177.51L224.8 179.42L225.5 181.31L226.2 183.13L226.9 184.89L227.6 186.57L228.3 188.16L229.0 189.65L229.7 191.03L230.4 192.32L231.1 193.49L231.8 194.56L232.5 195.54L233.2 196.41L233.9 197.19L234.6 197.88L235.3 198.49L236.0 199.03L236.7 199.49L237.4 199.90L238.1 200.25L238.8 200.56L239.5 200.82L240.2 201.04L240.9 201.23L241.6 201.39L242.3 201.52L243.0 201.64L243.7 201.74L244.4 201.82L245.1 201.89L245.8 201.95L246.5 202.00" fill="none" stroke="#111111" stroke-width="1.5" stroke-linejoin="round"/>
<path d="M82.0 202.35L82.7 202.35L83.4 202.35L84.1 202.35L84.8 202.35L85.5 202.35L86.2 202.35L86.9 202.35L87.6 202.35L88.3 202.35L89.0 202.35L89.7 202.35L90.4 202.35L91.1 202.35L91.8 202.35L92.5 202.35L93.2 202.35L93.9 202.35L94.6 202.35L95.3 202.35L96.0 202.35L96.7 202.35L97.4 202.35L98.1 202.35L98.8 202.35L99.5 202.35L100.2 202.35L100.9 202.35L101.6 202.35L102.3 202.35L103.0 202.35L103.7 202.35L104.4 202.35L105.1 202.35L105.8 202.35L106.5 202.35L107.2 202.35L107.9 202.35L108.6 202.35L109.3 202.35L110.0 202.35L110.7 202.35L111.4 202.35L112.1 202.35L112.8 202.35L113.5 202.35L114.2 202.35L114.9 202.35L115.6 202.35L116.3 202.35L117.0 202.35L117.7 202.35L118.4 202.35L119.1 202.35L119.8 202.35L120.5 202.35L121.2 202.35L121.9 202.35L122.6 202.35L123.3 202.35L124.0 202.35L124.7 202.35L125.4 202.35L126.1 202.35L126.8 202.35L127.5 202.35L128.2 202.35L128.9 202.35L129.6 202.35L130.3 202.35L131.0 202.35L131.7 202.35L132.4 202.35L133.1 202.35L133.8 202.35L134.5 202.35L135.2 202.35L135.9 202.35L136.6 202.35L137.3 202.35L138.0 202.35L138.7 202.35L139.4 202.35L140.1 202.35L140.8 202.35L141.5 202.35L142.2 202.35L142.9 202.35L143.6 202.35L144.3 202.35L145.0 202.35L145.7 202.35L146.4 202.35L147.1 202.35L147.8 202.35L148.5 202.35L149.2 202.35L149.9 202.35L150.6 202.35L151.3 202.35L152.0 202.35L152.7 202.35L153.4 202.35L154.1 202.35L154.8 202.35L155.5 202.35L156.2 202.35L156.9 202.35L157.6 202.35L158.3 202.35L159.0 202.35L159.7 202.35L160.4 202.35L161.1 202.35L161.8 202.35L162.5 202.35L163.2 202.35L163.9 202.35L164.6 202.34L165.3 202.34L166.0 202.34L166.7 202.34L167.4 202.34L168.1 202.34L168.8 202.34L169.5 202.34L170.2 202.33L170.9 202.33L171.6 202.33L172.3 202.33L173.0 202.32L173.7 202.32L174.4 202.32L175.1 202.31L175.8 202.31L176.5 202.30L177.2 202.30L177.9 202.29L178.6 202.28L179.3 202.27L180.0 202.26L180.7 202.25L181.4 202.24L182.1 202.23L182.8 202.21L183.5 202.19L184.2 202.16L184.9 202.14L185.6 202.10L186.3 202.06L187.0 202.02L187.7 201.96L188.4 201.89L189.1 201.81L189.8 201.71L190.5 201.60L191.2 201.45L191.9 201.28L192.6 201.08L193.3 200.83L194.0 200.55L194.7 200.20L195.4 199.80L196.1 199.34L196.8 198.79L197.5 198.16L198.2 197.45L198.9 196.63L199.6 195.70L200.3 194.67L201.0 193.52L201.7 192.24L202.4 190.85L203.1 189.34L203.8 187.71L204.5 185.98L205.2 184.15L205.9 182.23L206.6 180.25L207.3 178.22L208.0 176.18L208.7 174.13L209.4 172.13L210.1 170.19L210.8 168.36L211.5 166.67L212.2 165.17L212.9 163.88L213.6 162.85L214.3 162.11L215.0 161.67L215.7 161.55L216.4 161.74L217.1 162.23L217.8 162.99L218.5 164.00L219.2 165.24L219.9 166.68L220.6 168.27L221.3 170.00L222.0 171.82L222.7 173.70L223.4 175.62L224.1 177.55L224.8 179.46L225.5 181.34L226.2 183.17L226.9 184.92L227.6 186.60L228.3 188.18L229.0 189.67L229.7 191.05L230.4 192.33L231.1 193.51L231.8 194.58L232.5 195.55L233.2 196.42L233.9 197.20L234.6 197.89L235.3 198.50L236.0 199.03L236.7 199.50L237.4 199.91L238.1 200.26L238.8 200.56L239.5 200.82L240.2 201.04L240.9 201.23L241.6 201.39L242.3 201.53L243.0 201.64L243.7 201.74L244.4 201.82L245.1 201.89L245.8 201.95L246.5 202.00" fill="none" stroke="#1a8a1a" stroke-width="1.5" stroke-linejoin="round"/>
<path d="M82.0 202.35L82.7 202.35L83.4 202.35L84.1 202.35L84.8 202.35L85.5 202.35L86.2 202.35L86.9 202.35L87.6 202.35L88.3 202.35L89.0 202.35L89.7 202.35L90.4 202.35L91.1 202.35L91.8 202.35L92.5 202.35L93.2 202.35L93.9 202.35L94.6 202.35L95.3 202.35L96.0 202.35L96.7 202.35L97.4 202.35L98.1 202.35L98.8 202.35L99.5 202.35L100.2 202.35L100.9 202.35L101.6 202.35L102.3 202.35L103.0 202.35L103.7 202.35L104.4 202.35L105.1 202.35L105.8 202.35L106.5 202.35L107.2 202.35L107.9 202.35L108.6 202.35L109.3 202.35L110.0 202.35L110.7 202.35L111.4 202.35L112.1 202.35L112.8 202.35L113.5 202.35L114.2 202.35L114.9 202.35L115.6 202.35L116.3 202.35L117.0 202.35L117.7 202.35L118.4 202.35L119.1 202.35L119.8 202.35L120.5 202.35L121.2 202.35L121.9 202.35L122.6 202.35L123.3 202.35L124.0 202.34L124.7 202.34L125.4 202.34L126.1 202.34L126.8 202.34L127.5 202.34L128.2 202.34L128.9 202.34L129.6 202.34L130.3 202.33L131.0 202.33L131.7 202.33L132.4 202.33L133.1 202.32L133.8 202.32L134.5 202.32L135.2 202.31L135.9 202.31L136.6 202.30L137.3 202.30L138.0 202.29L138.7 202.29L139.4 202.28L140.1 202.27L140.8 202.26L141.5 202.25L142.2 202.24L142.9 202.23L143.6 202.22L144.3 202.20L145.0 202.18L145.7 202.16L146.4 202.14L147.1 202.11L147.8 202.08L148.5 202.05L149.2 202.01L149.9 201.96L150.6 201.91L151.3 201.85L152.0 201.78L152.7 201.69L153.4 201.60L154.1 201.49L154.8 201.35L155.5 201.20L156.2 201.02L156.9 200.82L157.6 200.58L158.3 200.31L159.0 200.00L159.7 199.64L160.4 199.24L161.1 198.78L161.8 198.27L162.5 197.70L163.2 197.06L163.9 196.35L164.6 195.57L165.3 194.71L166.0 193.78L166.7 192.78L167.4 191.70L168.1 190.55L168.8 189.33L169.5 188.05L170.2 186.72L170.9 185.34L171.6 183.92L172.3 182.49L173.0 181.04L173.7 179.60L174.4 178.20L175.1 176.84L175.8 175.55L176.5 174.36L177.2 173.29L177.9 172.37L178.6 171.62L179.3 171.05L180.0 170.69L180.7 170.55L181.4 170.62L182.1 170.88L182.8 171.33L183.5 171.96L184.2 172.74L184.9 173.67L185.6 174.72L186.3 175.88L187.0 177.13L187.7 178.44L188.4 179.79L189.1 181.18L189.8 182.58L190.5 183.97L191.2 185.35L191.9 186.70L192.6 188.01L193.3 189.27L194.0 190.47L194.7 191.61L195.4 192.68L196.1 193.69L196.8 194.62L197.5 195.48L198.2 196.27L198.9 196.99L199.6 197.64L200.3 198.23L201.0 198.76L201.7 199.23L202.4 199.64L203.1 200.01L203.8 200.33L204.5 200.61L205.2 200.85L205.9 201.06L206.6 201.25L207.3 201.40L208.0 201.54L208.7 201.65L209.4 201.75L210.1 201.83L210.8 201.90L211.5 201.96L212.2 202.02L212.9 202.06L213.6 202.10L214.3 202.13L215.0 202.16L215.7 202.18L216.4 202.20L217.1 202.22L217.8 202.23L218.5 202.24L219.2 202.26L219.9 202.27L220.6 202.27L221.3 202.28L222.0 202.29L222.7 202.29L223.4 202.30L224.1 202.31L224.8 202.31L225.5 202.31L226.2 202.32L226.9 202.32L227.6 202.32L228.3 202.33L229.0 202.33L229.7 202.33L230.4 202.33L231.1 202.33L231.8 202.34L232.5 202.34L233.2 202.34L233.9 202.34L234.6 202.34L235.3 202.34L236.0 202.34L236.7 202.34L237.4 202.34L238.1 202.35L238.8 202.35L239.5 202.35L240.2 202.35L240.9 202.35L241.6 202.35L242.3 202.35L243.0 202.35L243.7 202.35L244.4 202.35L245.1 202.35L245.8 202.35L246.5 202.35" fill="none" stroke="#ff9000" stroke-width="1.5" stroke-linejoin="round"/>
<path d="M82.0 202.35L82.7 202.35L83.4 202.35L84.1 202.35L84.8 202.35L85.5 202.35L86.2 202.35L86.9 202.35L87.6 202.35L88.3 202.35L89.0 202.35L89.7 202.34L90.4 202.34L91.1 202.34L91.8 202.34L92.5 202.34L93.2 202.34L93.9 202.33L94.6 202.33L95.3 202.33L96.0 202.32L96.7 202.32L97.4 202.31L98.1 202.30L98.8 202.29L99.5 202.28L100.2 202.27L100.9 202.26L101.6 202.24L102.3 202.23L103.0 202.21L103.7 202.18L104.4 202.15L105.1 202.12L105.8 202.09L106.5 202.05L107.2 202.00L107.9 201.95L108.6 201.90L109.3 201.83L110.0 201.76L110.7 201.68L111.4 201.59L112.1 201.49L112.8 201.38L113.5 201.26L114.2 201.13L114.9 200.99L115.6 200.83L116.3 200.66L117.0 200.47L117.7 200.27L118.4 200.05L119.1 199.81L119.8 199.56L120.5 199.29L121.2 199.01L121.9 198.70L122.6 198.38L123.3 198.04L124.0 197.68L124.7 197.31L125.4 196.92L126.1 196.51L126.8 196.09L127.5 195.66L128.2 195.21L128.9 194.75L129.6 194.28L130.3 193.81L131.0 193.33L131.7 192.84L132.4 192.36L133.1 191.88L133.8 191.40L134.5 190.92L135.2 190.46L135.9 190.01L136.6 189.57L137.3 189.15L138.0 188.76L138.7 188.38L139.4 188.03L140.1 187.71L140.8 187.41L141.5 187.15L142.2 186.93L142.9 186.74L143.6 186.58L144.3 186.47L145.0 186.39L145.7 186.35L146.4 186.36L147.1 186.40L147.8 186.48L148.5 186.60L149.2 186.76L149.9 186.96L150.6 187.19L151.3 187.45L152.0 187.75L152.7 188.08L153.4 188.43L154.1 188.81L154.8 189.21L155.5 189.63L156.2 190.07L156.9 190.53L157.6 190.99L158.3 191.46L159.0 191.94L159.7 192.43L160.4 192.91L161.1 193.40L161.8 193.88L162.5 194.35L163.2 194.82L163.9 195.27L164.6 195.72L165.3 196.15L166.0 196.57L166.7 196.98L167.4 197.36L168.1 197.74L168.8 198.09L169.5 198.43L170.2 198.75L170.9 199.05L171.6 199.33L172.3 199.60L173.0 199.85L173.7 200.08L174.4 200.30L175.1 200.50L175.8 200.68L176.5 200.85L177.2 201.01L177.9 201.15L178.6 201.28L179.3 201.40L180.0 201.51L180.7 201.60L181.4 201.69L182.1 201.77L182.8 201.84L183.5 201.90L184.2 201.96L184.9 202.01L185.6 202.05L186.3 202.09L187.0 202.13L187.7 202.16L188.4 202.19L189.1 202.21L189.8 202.23L190.5 202.25L191.2 202.26L191.9 202.28L192.6 202.29L193.3 202.30L194.0 202.30L194.7 202.31L195.4 202.32L196.1 202.32L196.8 202.33L197.5 202.33L198.2 202.33L198.9 202.34L199.6 202.34L200.3 202.34L201.0 202.34L201.7 202.34L202.4 202.35L203.1 202.35L203.8 202.35L204.5 202.35L205.2 202.35L205.9 202.35L206.6 202.35L207.3 202.35L208.0 202.35L208.7 202.35L209.4 202.35L210.1 202.35L210.8 202.35L211.5 202.35L212.2 202.35L212.9 202.35L213.6 202.35L214.3 202.35L215.0 202.35L215.7 202.35L216.4 202.35L217.1 202.35L217.8 202.35L218.5 202.35L219.2 202.35L219.9 202.35L220.6 202.35L221.3 202.35L222.0 202.35L222.7 202.35L223.4 202.35L224.1 202.35L224.8 202.35L225.5 202.35L226.2 202.35L226.9 202.35L227.6 202.35L228.3 202.35L229.0 202.35L229.7 202.35L230.4 202.35L231.1 202.35L231.8 202.35L232.5 202.35L233.2 202.35L233.9 202.35L234.6 202.35L235.3 202.35L236.0 202.35L236.7 202.35L237.4 202.35L238.1 202.35L238.8 202.35L239.5 202.35L240.2 202.35L240.9 202.35L241.6 202.35L242.3 202.35L243.0 202.35L243.7 202.35L244.4 202.35L245.1 202.35L245.8 202.35L246.5 202.35" fill="none" stroke="#0000ff" stroke-width="1.5" stroke-linejoin="round"/>
<path d="M82.0 202.23L82.7 202.20L83.4 202.17L84.1 202.13L84.8 202.08L85.5 202.02L86.2 201.95L86.9 201.87L87.6 201.78L88.3 201.68L89.0 201.56L89.7 201.42L90.4 201.26L91.1 201.09L91.8 200.89L92.5 200.66L93.2 200.42L93.9 200.15L94.6 199.85L95.3 199.53L96.0 199.18L96.7 198.80L97.4 198.40L98.1 197.98L98.8 197.53L99.5 197.07L100.2 196.58L100.9 196.09L101.6 195.58L102.3 195.07L103.0 194.56L103.7 194.05L104.4 193.55L105.1 193.07L105.8 192.61L106.5 192.18L107.2 191.77L107.9 191.41L108.6 191.09L109.3 190.82L110.0 190.59L110.7 190.42L111.4 190.31L112.1 190.26L112.8 190.26L113.5 190.32L114.2 190.44L114.9 190.62L115.6 190.85L116.3 191.13L117.0 191.46L117.7 191.83L118.4 192.24L119.1 192.67L119.8 193.14L120.5 193.62L121.2 194.12L121.9 194.63L122.6 195.14L123.3 195.65L124.0 196.16L124.7 196.65L125.4 197.13L126.1 197.60L126.8 198.04L127.5 198.46L128.2 198.86L128.9 199.23L129.6 199.58L130.3 199.89L131.0 200.19L131.7 200.46L132.4 200.70L133.1 200.92L133.8 201.11L134.5 201.29L135.2 201.44L135.9 201.58L136.6 201.69L137.3 201.80L138.0 201.89L138.7 201.96L139.4 202.03L140.1 202.08L140.8 202.13L141.5 202.17L142.2 202.20L142.9 202.23L143.6 202.25L144.3 202.27L145.0 202.29L145.7 202.30L146.4 202.31L147.1 202.32L147.8 202.33L148.5 202.33L149.2 202.34L149.9 202.34L150.6 202.34L151.3 202.34L152.0 202.35L152.7 202.35L153.4 202.35L154.1 202.35L154.8 202.35L155.5 202.35L156.2 202.35L156.9 202.35L157.6 202.35L158.3 202.35L159.0 202.35L159.7 202.35L160.4 202.35L161.1 202.35L161.8 202.35L162.5 202.35L163.2 202.35L163.9 202.35L164.6 202.35L165.3 202.35L166.0 202.35L166.7 202.35L167.4 202.35L168.1 202.35L168.8 202.35L169.5 202.35L170.2 202.35L170.9 202.35L171.6 202.35L172.3 202.35L173.0 202.35L173.7 202.35L174.4 202.35L175.1 202.35L175.8 202.35L176.5 202.35L177.2 202.35L177.9 202.35L178.6 202.35L179.3 202.35L180.0 202.35L180.7 202.35L181.4 202.35L182.1 202.35L182.8 202.35L183.5 202.35L184.2 202.35L184.9 202.35L185.6 202.35L186.3 202.35L187.0 202.35L187.7 202.35L188.4 202.35L189.1 202.35L189.8 202.35L190.5 202.35L191.2 202.35L191.9 202.35L192.6 202.35L193.3 202.35L194.0 202.35L194.7 202.35L195.4 202.35L196.1 202.35L196.8 202.35L197.5 202.35L198.2 202.35L198.9 202.35L199.6 202.35L200.3 202.35L201.0 202.35L201.7 202.35L202.4 202.35L203.1 202.35L203.8 202.35L204.5 202.35L205.2 202.35L205.9 202.35L206.6 202.35L207.3 202.35L208.0 202.35L208.7 202.35L209.4 202.35L210.1 202.35L210.8 202.35L211.5 202.35L212.2 202.35L212.9 202.35L213.6 202.35L214.3 202.35L215.0 202.35L215.7 202.35L216.4 202.35L217.1 202.35L217.8 202.35L218.5 202.35L219.2 202.35L219.9 202.35L220.6 202.35L221.3 202.35L222.0 202.35L222.7 202.35L223.4 202.35L224.1 202.35L224.8 202.35L225.5 202.35L226.2 202.35L226.9 202.35L227.6 202.35L228.3 202.35L229.0 202.35L229.7 202.35L230.4 202.35L231.1 202.35L231.8 202.35L232.5 202.35L233.2 202.35L233.9 202.35L234.6 202.35L235.3 202.35L236.0 202.35L236.7 202.35L237.4 202.35L238.1 202.35L238.8 202.35L239.5 202.35L240.2 202.35L240.9 202.35L241.6 202.35L242.3 202.35L243.0 202.35L243.7 202.35L244.4 202.35L245.1 202.35L245.8 202.35L246.5 202.35" fill="none" stroke="#ff00ff" stroke-width="1.5" stroke-linejoin="round"/>
<path d="M82.0 247.53L82.7 247.51L83.4 247.49L84.1 247.46L84.8 247.43L85.5 247.39L86.2 247.35L86.9 247.29L87.6 247.23L88.3 247.15L89.0 247.07L89.7 246.97L90.4 246.85L91.1 246.72L91.8 246.57L92.5 246.39L93.2 246.20L93.9 245.99L94.6 245.75L95.3 245.49L96.0 245.20L96.7 244.89L97.4 244.55L98.1 244.19L98.8 243.80L99.5 243.39L100.2 242.97L100.9 242.52L101.6 242.06L102.3 241.59L103.0 241.11L103.7 240.63L104.4 240.15L105.1 239.68L105.8 239.22L106.5 238.78L107.2 238.36L107.9 237.97L108.6 237.61L109.3 237.28L110.0 237.00L110.7 236.76L111.4 236.57L112.1 236.42L112.8 236.32L113.5 236.27L114.2 236.27L114.9 236.31L115.6 236.39L116.3 236.52L117.0 236.68L117.7 236.86L118.4 237.07L119.1 237.30L119.8 237.54L120.5 237.79L121.2 238.04L121.9 238.28L122.6 238.50L123.3 238.71L124.0 238.89L124.7 239.05L125.4 239.17L126.1 239.25L126.8 239.30L127.5 239.31L128.2 239.27L128.9 239.20L129.6 239.08L130.3 238.92L131.0 238.73L131.7 238.50L132.4 238.23L133.1 237.94L133.8 237.62L134.5 237.29L135.2 236.93L135.9 236.57L136.6 236.20L137.3 235.83L138.0 235.47L138.7 235.11L139.4 234.77L140.1 234.44L140.8 234.14L141.5 233.87L142.2 233.63L142.9 233.42L143.6 233.24L144.3 233.11L145.0 233.01L145.7 232.96L146.4 232.94L147.1 232.97L147.8 233.04L148.5 233.15L149.2 233.29L149.9 233.47L150.6 233.68L151.3 233.91L152.0 234.17L152.7 234.45L153.4 234.74L154.1 235.04L154.8 235.33L155.5 235.62L156.2 235.90L156.9 236.16L157.6 236.39L158.3 236.58L159.0 236.73L159.7 236.83L160.4 236.87L161.1 236.84L161.8 236.74L162.5 236.56L163.2 236.30L163.9 235.94L164.6 235.49L165.3 234.93L166.0 234.28L166.7 233.53L167.4 232.68L168.1 231.73L168.8 230.69L169.5 229.57L170.2 228.37L170.9 227.10L171.6 225.78L172.3 224.42L173.0 223.05L173.7 221.67L174.4 220.31L175.1 219.00L175.8 217.76L176.5 216.62L177.2 215.60L177.9 214.73L178.6 214.04L179.3 213.55L180.0 213.28L180.7 213.23L181.4 213.39L182.1 213.75L182.8 214.29L183.5 215.01L184.2 215.90L184.9 216.92L185.6 218.06L186.3 219.30L187.0 220.61L187.7 221.98L188.4 223.38L189.1 224.79L189.8 226.18L190.5 227.55L191.2 228.86L191.9 230.12L192.6 231.29L193.3 232.36L194.0 233.32L194.7 234.16L195.4 234.86L196.1 235.41L196.8 235.81L197.5 236.04L198.2 236.10L198.9 235.98L199.6 235.67L200.3 235.17L201.0 234.49L201.7 233.62L202.4 232.56L203.1 231.33L203.8 229.92L204.5 228.36L205.2 226.66L205.9 224.84L206.6 222.91L207.3 220.91L208.0 218.86L208.7 216.80L209.4 214.76L210.1 212.78L210.8 210.90L211.5 209.17L212.2 207.61L212.9 206.29L213.6 205.23L214.3 204.47L215.0 204.03L215.7 203.93L216.4 204.15L217.1 204.68L217.8 205.51L218.5 206.60L219.2 207.94L219.9 209.48L220.6 211.19L221.3 213.04L222.0 214.99L222.7 217.00L223.4 219.05L224.1 221.11L224.8 223.16L225.5 225.16L226.2 227.11L226.9 228.99L227.6 230.78L228.3 232.47L229.0 234.06L229.7 235.54L230.4 236.90L231.1 238.16L231.8 239.30L232.5 240.33L233.2 241.26L233.9 242.10L234.6 242.83L235.3 243.49L236.0 244.06L236.7 244.56L237.4 244.99L238.1 245.36L238.8 245.69L239.5 245.96L240.2 246.20L240.9 246.40L241.6 246.57L242.3 246.72L243.0 246.84L243.7 246.95L244.4 247.03L245.1 247.11L245.8 247.17L246.5 247.23" fill="none" stroke="#ff00ff" stroke-width="1.5" stroke-linejoin="round"/>
<path d="M82.0 247.60L82.7 247.60L83.4 247.60L84.1 247.60L84.8 247.60L85.5 247.60L86.2 247.60L86.9 247.60L87.6 247.60L88.3 247.60L89.0 247.60L89.7 247.60L90.4 247.60L91.1 247.60L91.8 247.60L92.5 247.60L93.2 247.60L93.9 247.60L94.6 247.60L95.3 247.60L96.0 247.60L96.7 247.60L97.4 247.60L98.1 247.60L98.8 247.60L99.5 247.60L100.2 247.60L100.9 247.60L101.6 247.60L102.3 247.60L103.0 247.60L103.7 247.60L104.4 247.60L105.1 247.60L105.8 247.60L106.5 247.60L107.2 247.60L107.9 247.60L108.6 247.60L109.3 247.60L110.0 247.60L110.7 247.60L111.4 247.60L112.1 247.60L112.8 247.60L113.5 247.60L114.2 247.60L114.9 247.60L115.6 247.60L116.3 247.60L117.0 247.60L117.7 247.60L118.4 247.60L119.1 247.60L119.8 247.60L120.5 247.60L121.2 247.60L121.9 247.60L122.6 247.60L123.3 247.60L124.0 247.60L124.7 247.60L125.4 247.60L126.1 247.60L126.8 247.60L127.5 247.60L128.2 247.60L128.9 247.60L129.6 247.60L130.3 247.60L131.0 247.60L131.7 247.60L132.4 247.60L133.1 247.60L133.8 247.60L134.5 247.60L135.2 247.60L135.9 247.60L136.6 247.60L137.3 247.60L138.0 247.60L138.7 247.60L139.4 247.60L140.1 247.60L140.8 247.60L141.5 247.60L142.2 247.60L142.9 247.60L143.6 247.60L144.3 247.60L145.0 247.60L145.7 247.60L146.4 247.60L147.1 247.60L147.8 247.60L148.5 247.60L149.2 247.60L149.9 247.60L150.6 247.60L151.3 247.60L152.0 247.60L152.7 247.60L153.4 247.60L154.1 247.60L154.8 247.60L155.5 247.60L156.2 247.60L156.9 247.60L157.6 247.60L158.3 247.60L159.0 247.60L159.7 247.60L160.4 247.60L161.1 247.60L161.8 247.60L162.5 247.60L163.2 247.60L163.9 247.60L164.6 247.59L165.3 247.59L166.0 247.59L166.7 247.59L167.4 247.59L168.1 247.59L168.8 247.59L169.5 247.59L170.2 247.58L170.9 247.58L171.6 247.58L172.3 247.58L173.0 247.57L173.7 247.57L174.4 247.57L175.1 247.56L175.8 247.56L176.5 247.55L177.2 247.54L177.9 247.54L178.6 247.53L179.3 247.52L180.0 247.51L180.7 247.50L181.4 247.48L182.1 247.47L182.8 247.45L183.5 247.43L184.2 247.40L184.9 247.37L185.6 247.34L186.3 247.30L187.0 247.25L187.7 247.19L188.4 247.11L189.1 247.03L189.8 246.92L190.5 246.80L191.2 246.64L191.9 246.46L192.6 246.24L193.3 245.98L194.0 245.68L194.7 245.31L195.4 244.89L196.1 244.39L196.8 243.81L197.5 243.14L198.2 242.37L198.9 241.50L199.6 240.52L200.3 239.41L201.0 238.18L201.7 236.83L202.4 235.34L203.1 233.73L203.8 232.00L204.5 230.15L205.2 228.19L205.9 226.15L206.6 224.04L207.3 221.88L208.0 219.69L208.7 217.51L209.4 215.38L210.1 213.31L210.8 211.36L211.5 209.56L212.2 207.96L212.9 206.59L213.6 205.49L214.3 204.69L215.0 204.23L215.7 204.10L216.4 204.31L217.1 204.82L217.8 205.63L218.5 206.71L219.2 208.03L219.9 209.57L220.6 211.27L221.3 213.11L222.0 215.05L222.7 217.06L223.4 219.10L224.1 221.16L224.8 223.20L225.5 225.20L226.2 227.15L226.9 229.02L227.6 230.80L228.3 232.49L229.0 234.08L229.7 235.56L230.4 236.92L231.1 238.17L231.8 239.31L232.5 240.35L233.2 241.28L233.9 242.11L234.6 242.84L235.3 243.49L236.0 244.06L236.7 244.56L237.4 245.00L238.1 245.37L238.8 245.69L239.5 245.97L240.2 246.20L240.9 246.41L241.6 246.58L242.3 246.72L243.0 246.84L243.7 246.95L244.4 247.04L245.1 247.11L245.8 247.17L246.5 247.23" fill="none" stroke="#7e0808" stroke-width="1.5" stroke-linejoin="round"/>
<path d="M82.0 247.60L82.7 247.60L83.4 247.60L84.1 247.60L84.8 247.60L85.5 247.60L86.2 247.60L86.9 247.60L87.6 247.60L88.3 247.60L89.0 247.60L89.7 247.60L90.4 247.60L91.1 247.60L91.8 247.60L92.5 247.60L93.2 247.60L93.9 247.60L94.6 247.60L95.3 247.60L96.0 247.60L96.7 247.60L97.4 247.60L98.1 247.60L98.8 247.60L99.5 247.60L100.2 247.60L100.9 247.60L101.6 247.60L102.3 247.60L103.0 247.60L103.7 247.60L104.4 247.60L105.1 247.60L105.8 247.60L106.5 247.60L107.2 247.60L107.9 247.60L108.6 247.60L109.3 247.60L110.0 247.60L110.7 247.60L111.4 247.60L112.1 247.60L112.8 247.60L113.5 247.60L114.2 247.60L114.9 247.60L115.6 247.60L116.3 247.60L117.0 247.60L117.7 247.60L118.4 247.60L119.1 247.60L119.8 247.60L120.5 247.60L121.2 247.60L121.9 247.60L122.6 247.60L123.3 247.59L124.0 247.59L124.7 247.59L125.4 247.59L126.1 247.59L126.8 247.59L127.5 247.59L128.2 247.59L128.9 247.59L129.6 247.58L130.3 247.58L131.0 247.58L131.7 247.58L132.4 247.57L133.1 247.57L133.8 247.57L134.5 247.56L135.2 247.56L135.9 247.56L136.6 247.55L137.3 247.54L138.0 247.54L138.7 247.53L139.4 247.52L140.1 247.51L140.8 247.50L141.5 247.49L142.2 247.48L142.9 247.47L143.6 247.45L144.3 247.43L145.0 247.41L145.7 247.39L146.4 247.37L147.1 247.34L147.8 247.31L148.5 247.27L149.2 247.22L149.9 247.17L150.6 247.11L151.3 247.04L152.0 246.96L152.7 246.87L153.4 246.76L154.1 246.64L154.8 246.49L155.5 246.32L156.2 246.12L156.9 245.89L157.6 245.63L158.3 245.33L159.0 244.98L159.7 244.59L160.4 244.14L161.1 243.64L161.8 243.07L162.5 242.44L163.2 241.73L163.9 240.95L164.6 240.09L165.3 239.16L166.0 238.14L166.7 237.05L167.4 235.87L168.1 234.62L168.8 233.30L169.5 231.91L170.2 230.47L170.9 228.98L171.6 227.46L172.3 225.92L173.0 224.37L173.7 222.85L174.4 221.35L175.1 219.92L175.8 218.57L176.5 217.34L177.2 216.23L177.9 215.30L178.6 214.55L179.3 214.01L180.0 213.69L180.7 213.60L181.4 213.74L182.1 214.07L182.8 214.61L183.5 215.33L184.2 216.21L184.9 217.24L185.6 218.40L186.3 219.67L187.0 221.02L187.7 222.44L188.4 223.90L189.1 225.39L189.8 226.89L190.5 228.37L191.2 229.84L191.9 231.27L192.6 232.65L193.3 233.98L194.0 235.25L194.7 236.45L195.4 237.58L196.1 238.63L196.8 239.61L197.5 240.51L198.2 241.33L198.9 242.08L199.6 242.75L200.3 243.36L201.0 243.91L201.7 244.39L202.4 244.82L203.1 245.20L203.8 245.53L204.5 245.82L205.2 246.07L205.9 246.28L206.6 246.47L207.3 246.63L208.0 246.77L208.7 246.89L209.4 246.99L210.1 247.07L210.8 247.14L211.5 247.20L212.2 247.26L212.9 247.30L213.6 247.34L214.3 247.37L215.0 247.40L215.7 247.42L216.4 247.44L217.1 247.46L217.8 247.48L218.5 247.49L219.2 247.50L219.9 247.51L220.6 247.52L221.3 247.53L222.0 247.54L222.7 247.54L223.4 247.55L224.1 247.55L224.8 247.56L225.5 247.56L226.2 247.57L226.9 247.57L227.6 247.57L228.3 247.58L229.0 247.58L229.7 247.58L230.4 247.58L231.1 247.58L231.8 247.59L232.5 247.59L233.2 247.59L233.9 247.59L234.6 247.59L235.3 247.59L236.0 247.59L236.7 247.59L237.4 247.59L238.1 247.59L238.8 247.60L239.5 247.60L240.2 247.60L240.9 247.60L241.6 247.60L242.3 247.60L243.0 247.60L243.7 247.60L244.4 247.60L245.1 247.60L245.8 247.60L246.5 247.60" fill="none" stroke="#1a8a1a" stroke-width="1.5" stroke-linejoin="round"/>
<path d="M82.0 247.60L82.7 247.60L83.4 247.60L84.1 247.60L84.8 247.60L85.5 247.60L86.2 247.60L86.9 247.60L87.6 247.60L88.3 247.60L89.0 247.60L89.7 247.60L90.4 247.60L91.1 247.60L91.8 247.60L92.5 247.60L93.2 247.60L93.9 247.60L94.6 247.60L95.3 247.60L96.0 247.60L96.7 247.60L97.4 247.59L98.1 247.59L98.8 247.59L99.5 247.59L100.2 247.59L100.9 247.58L101.6 247.58L102.3 247.57L103.0 247.57L103.7 247.56L104.4 247.55L105.1 247.54L105.8 247.53L106.5 247.52L107.2 247.50L107.9 247.48L108.6 247.46L109.3 247.43L110.0 247.40L110.7 247.36L111.4 247.32L112.1 247.27L112.8 247.22L113.5 247.16L114.2 247.09L114.9 247.01L115.6 246.92L116.3 246.81L117.0 246.70L117.7 246.57L118.4 246.43L119.1 246.27L119.8 246.10L120.5 245.91L121.2 245.70L121.9 245.48L122.6 245.23L123.3 244.97L124.0 244.68L124.7 244.37L125.4 244.05L126.1 243.70L126.8 243.33L127.5 242.94L128.2 242.53L128.9 242.11L129.6 241.67L130.3 241.21L131.0 240.74L131.7 240.26L132.4 239.77L133.1 239.28L133.8 238.78L134.5 238.29L135.2 237.80L135.9 237.31L136.6 236.84L137.3 236.38L138.0 235.94L138.7 235.52L139.4 235.13L140.1 234.76L140.8 234.43L141.5 234.13L142.2 233.87L142.9 233.65L143.6 233.47L144.3 233.34L145.0 233.25L145.7 233.20L146.4 233.21L147.1 233.26L147.8 233.35L148.5 233.49L149.2 233.68L149.9 233.90L150.6 234.17L151.3 234.47L152.0 234.81L152.7 235.18L153.4 235.58L154.1 236.00L154.8 236.44L155.5 236.91L156.2 237.38L156.9 237.87L157.6 238.36L158.3 238.86L159.0 239.35L159.7 239.84L160.4 240.33L161.1 240.81L161.8 241.28L162.5 241.73L163.2 242.17L163.9 242.59L164.6 243.00L165.3 243.38L166.0 243.75L166.7 244.09L167.4 244.42L168.1 244.72L168.8 245.01L169.5 245.27L170.2 245.51L170.9 245.74L171.6 245.94L172.3 246.13L173.0 246.30L173.7 246.45L174.4 246.59L175.1 246.72L175.8 246.83L176.5 246.93L177.2 247.02L177.9 247.10L178.6 247.17L179.3 247.23L180.0 247.28L180.7 247.33L181.4 247.37L182.1 247.40L182.8 247.43L183.5 247.46L184.2 247.48L184.9 247.50L185.6 247.52L186.3 247.53L187.0 247.54L187.7 247.55L188.4 247.56L189.1 247.57L189.8 247.57L190.5 247.58L191.2 247.58L191.9 247.59L192.6 247.59L193.3 247.59L194.0 247.59L194.7 247.59L195.4 247.60L196.1 247.60L196.8 247.60L197.5 247.60L198.2 247.60L198.9 247.60L199.6 247.60L200.3 247.60L201.0 247.60L201.7 247.60L202.4 247.60L203.1 247.60L203.8 247.60L204.5 247.60L205.2 247.60L205.9 247.60L206.6 247.60L207.3 247.60L208.0 247.60L208.7 247.60L209.4 247.60L210.1 247.60L210.8 247.60L211.5 247.60L212.2 247.60L212.9 247.60L213.6 247.60L214.3 247.60L215.0 247.60L215.7 247.60L216.4 247.60L217.1 247.60L217.8 247.60L218.5 247.60L219.2 247.60L219.9 247.60L220.6 247.60L221.3 247.60L222.0 247.60L222.7 247.60L223.4 247.60L224.1 247.60L224.8 247.60L225.5 247.60L226.2 247.60L226.9 247.60L227.6 247.60L228.3 247.60L229.0 247.60L229.7 247.60L230.4 247.60L231.1 247.60L231.8 247.60L232.5 247.60L233.2 247.60L233.9 247.60L234.6 247.60L235.3 247.60L236.0 247.60L236.7 247.60L237.4 247.60L238.1 247.60L238.8 247.60L239.5 247.60L240.2 247.60L240.9 247.60L241.6 247.60L242.3 247.60L243.0 247.60L243.7 247.60L244.4 247.60L245.1 247.60L245.8 247.60L246.5 247.60" fill="none" stroke="#0000ff" stroke-width="1.5" stroke-linejoin="round"/>
<path d="M82.0 247.53L82.7 247.51L83.4 247.49L84.1 247.46L84.8 247.43L85.5 247.39L86.2 247.35L86.9 247.29L87.6 247.23L88.3 247.15L89.0 247.07L89.7 246.97L90.4 246.85L91.1 246.72L91.8 246.57L92.5 246.40L93.2 246.20L93.9 245.99L94.6 245.75L95.3 245.49L96.0 245.20L96.7 244.89L97.4 244.56L98.1 244.20L98.8 243.81L99.5 243.41L100.2 242.98L100.9 242.54L101.6 242.08L102.3 241.62L103.0 241.15L103.7 240.67L104.4 240.20L105.1 239.74L105.8 239.29L106.5 238.87L107.2 238.46L107.9 238.09L108.6 237.75L109.3 237.45L110.0 237.20L110.7 237.00L111.4 236.85L112.1 236.75L112.8 236.70L113.5 236.71L114.2 236.78L114.9 236.90L115.6 237.08L116.3 237.30L117.0 237.58L117.7 237.89L118.4 238.24L119.1 238.63L119.8 239.05L120.5 239.48L121.2 239.94L121.9 240.40L122.6 240.88L123.3 241.35L124.0 241.82L124.7 242.28L125.4 242.73L126.1 243.17L126.8 243.58L127.5 243.98L128.2 244.35L128.9 244.70L129.6 245.03L130.3 245.33L131.0 245.61L131.7 245.86L132.4 246.08L133.1 246.29L133.8 246.47L134.5 246.63L135.2 246.78L135.9 246.90L136.6 247.01L137.3 247.11L138.0 247.19L138.7 247.26L139.4 247.32L140.1 247.37L140.8 247.41L141.5 247.45L142.2 247.48L142.9 247.50L143.6 247.52L144.3 247.54L145.0 247.55L145.7 247.56L146.4 247.57L147.1 247.58L147.8 247.58L148.5 247.59L149.2 247.59L149.9 247.59L150.6 247.59L151.3 247.60L152.0 247.60L152.7 247.60L153.4 247.60L154.1 247.60L154.8 247.60L155.5 247.60L156.2 247.60L156.9 247.60L157.6 247.60L158.3 247.60L159.0 247.60L159.7 247.60L160.4 247.60L161.1 247.60L161.8 247.60L162.5 247.60L163.2 247.60L163.9 247.60L164.6 247.60L165.3 247.60L166.0 247.60L166.7 247.60L167.4 247.60L168.1 247.60L168.8 247.60L169.5 247.60L170.2 247.60L170.9 247.60L171.6 247.60L172.3 247.60L173.0 247.60L173.7 247.60L174.4 247.60L175.1 247.60L175.8 247.60L176.5 247.60L177.2 247.60L177.9 247.60L178.6 247.60L179.3 247.60L180.0 247.60L180.7 247.60L181.4 247.60L182.1 247.60L182.8 247.60L183.5 247.60L184.2 247.60L184.9 247.60L185.6 247.60L186.3 247.60L187.0 247.60L187.7 247.60L188.4 247.60L189.1 247.60L189.8 247.60L190.5 247.60L191.2 247.60L191.9 247.60L192.6 247.60L193.3 247.60L194.0 247.60L194.7 247.60L195.4 247.60L196.1 247.60L196.8 247.60L197.5 247.60L198.2 247.60L198.9 247.60L199.6 247.60L200.3 247.60L201.0 247.60L201.7 247.60L202.4 247.60L203.1 247.60L203.8 247.60L204.5 247.60L205.2 247.60L205.9 247.60L206.6 247.60L207.3 247.60L208.0 247.60L208.7 247.60L209.4 247.60L210.1 247.60L210.8 247.60L211.5 247.60L212.2 247.60L212.9 247.60L213.6 247.60L214.3 247.60L215.0 247.60L215.7 247.60L216.4 247.60L217.1 247.60L217.8 247.60L218.5 247.60L219.2 247.60L219.9 247.60L220.6 247.60L221.3 247.60L222.0 247.60L222.7 247.60L223.4 247.60L224.1 247.60L224.8 247.60L225.5 247.60L226.2 247.60L226.9 247.60L227.6 247.60L228.3 247.60L229.0 247.60L229.7 247.60L230.4 247.60L231.1 247.60L231.8 247.60L232.5 247.60L233.2 247.60L233.9 247.60L234.6 247.60L235.3 247.60L236.0 247.60L236.7 247.60L237.4 247.60L238.1 247.60L238.8 247.60L239.5 247.60L240.2 247.60L240.9 247.60L241.6 247.60L242.3 247.60L243.0 247.60L243.7 247.60L244.4 247.60L245.1 247.60L245.8 247.60L246.5 247.60" fill="none" stroke="#14147a" stroke-width="1.5" stroke-linejoin="round"/>
<line x1="29.7" y1="247.6" x2="293.3" y2="247.6" stroke="#1c1a4e" stroke-width="1.7"/>
<path d="M112.10 33.00V34.65M112.10 42.30V49.90M112.10 57.55V65.15M112.10 72.80V80.40M112.10 88.05V95.65M112.10 103.30V110.90M112.10 118.55V126.15M112.10 133.80V141.40M112.10 149.05V156.65M112.10 164.30V171.90M112.10 179.55V187.15M112.10 194.80V202.40M112.10 210.05V217.65M112.10 225.30V232.90M112.10 240.55V248.15" stroke="#ff1010" stroke-width="1.70"/>
<path d="M146.00 33.00V37.25M146.00 44.90V52.50M146.00 60.15V67.75M146.00 75.40V83.00M146.00 90.65V98.25M146.00 105.90V113.50M146.00 121.15V128.75M146.00 136.40V144.00M146.00 151.65V159.25M146.00 166.90V174.50M146.00 182.15V189.75M146.00 197.40V205.00M146.00 212.65V220.25M146.00 227.90V235.50M146.00 243.15V250.50" stroke="#ff1010" stroke-width="1.70"/>
<path d="M180.30 33.00V35.75M180.30 43.40V51.00M180.30 58.65V66.25M180.30 73.90V81.50M180.30 89.15V96.75M180.30 104.40V112.00M180.30 119.65V127.25M180.30 134.90V142.50M180.30 150.15V157.75M180.30 165.40V173.00M180.30 180.65V188.25M180.30 195.90V203.50M180.30 211.15V218.75M180.30 226.40V234.00M180.30 241.65V249.25" stroke="#0000ff" stroke-width="1.70"/>
<path d="M215.50 33.00V37.25M215.50 44.90V52.50M215.50 60.15V67.75M215.50 75.40V83.00M215.50 90.65V98.25M215.50 105.90V113.50M215.50 121.15V128.75M215.50 136.40V144.00M215.50 151.65V159.25M215.50 166.90V174.50M215.50 182.15V189.75M215.50 197.40V205.00M215.50 212.65V220.25M215.50 227.90V235.50M215.50 243.15V250.50" stroke="#0000ff" stroke-width="1.70"/>
<path d="M292.32 247.6V252.60M275.95 247.6V250.60M259.58 247.6V252.60M243.21 247.6V250.60M226.84 247.6V252.60M210.47 247.6V250.60M194.10 247.6V252.60M177.73 247.6V250.60M161.36 247.6V252.60M144.99 247.6V250.60M128.62 247.6V252.60M112.25 247.6V250.60M95.88 247.6V252.60M79.51 247.6V250.60M63.14 247.6V252.60M46.77 247.6V250.60M30.40 247.6V252.60" stroke="#000" stroke-width="1.4"/>
<text transform="translate(292.22 0) scale(0.93 1)" x="0" y="264.8" font-family="Liberation Sans, sans-serif" font-weight="bold" font-size="12.7" text-anchor="middle" fill="#000">26</text>
<text transform="translate(259.48 0) scale(0.93 1)" x="0" y="264.8" font-family="Liberation Sans, sans-serif" font-weight="bold" font-size="12.7" text-anchor="middle" fill="#000">28</text>
<text transform="translate(226.74 0) scale(0.93 1)" x="0" y="264.8" font-family="Liberation Sans, sans-serif" font-weight="bold" font-size="12.7" text-anchor="middle" fill="#000">30</text>
<text transform="translate(194.00 0) scale(0.93 1)" x="0" y="264.8" font-family="Liberation Sans, sans-serif" font-weight="bold" font-size="12.7" text-anchor="middle" fill="#000">32</text>
<text transform="translate(161.26 0) scale(0.93 1)" x="0" y="264.8" font-family="Liberation Sans, sans-serif" font-weight="bold" font-size="12.7" text-anchor="middle" fill="#000">34</text>
<text transform="translate(128.52 0) scale(0.93 1)" x="0" y="264.8" font-family="Liberation Sans, sans-serif" font-weight="bold" font-size="12.7" text-anchor="middle" fill="#000">36</text>
<text transform="translate(95.78 0) scale(0.93 1)" x="0" y="264.8" font-family="Liberation Sans, sans-serif" font-weight="bold" font-size="12.7" text-anchor="middle" fill="#000">38</text>
<text transform="translate(63.04 0) scale(0.93 1)" x="0" y="264.8" font-family="Liberation Sans, sans-serif" font-weight="bold" font-size="12.7" text-anchor="middle" fill="#000">40</text>
<text transform="translate(30.30 0) scale(0.93 1)" x="0" y="264.8" font-family="Liberation Sans, sans-serif" font-weight="bold" font-size="12.7" text-anchor="middle" fill="#000">42</text>
<text transform="translate(161.1 0) scale(0.955 1)" x="0" y="283.6" font-family="Liberation Sans, sans-serif" font-weight="bold" font-size="13.8" text-anchor="middle" fill="#000">Binding Energy [eV]</text>
<text transform="translate(11.1 196.9) rotate(-90)" font-family="Liberation Sans, sans-serif" font-weight="bold" font-size="13.8" textLength="103.5" lengthAdjust="spacingAndGlyphs" fill="#000">Intetnsity [a.u.]</text>
<text x="34.6" y="84.90" font-family="Liberation Sans, sans-serif" font-weight="bold" font-size="11" fill="#000">K<tspan font-size="6.8" font-weight="normal" dy="3.6">3</tspan><tspan dy="-3.6">Fe(C</tspan><tspan font-size="6.8" font-weight="normal" dy="3.6">2</tspan><tspan dy="-3.6">O</tspan><tspan font-size="6.8" font-weight="normal" dy="3.6">4</tspan><tspan dy="-3.6">)</tspan><tspan font-size="6.8" font-weight="normal" dy="3.6">3</tspan></text>
<text x="34.6" y="103.80" font-family="Liberation Sans, sans-serif" font-weight="bold" font-size="11" fill="#000">0.5 wt%</text>
<text x="34.6" y="129.60" font-family="Liberation Sans, sans-serif" font-weight="bold" font-size="11" fill="#000">K<tspan font-size="6.8" font-weight="normal" dy="3.6">3</tspan><tspan dy="-3.6">Fe(C</tspan><tspan font-size="6.8" font-weight="normal" dy="3.6">2</tspan><tspan dy="-3.6">O</tspan><tspan font-size="6.8" font-weight="normal" dy="3.6">4</tspan><tspan dy="-3.6">)</tspan><tspan font-size="6.8" font-weight="normal" dy="3.6">3</tspan></text>
<text x="34.6" y="148.30" font-family="Liberation Sans, sans-serif" font-weight="bold" font-size="11" fill="#000">0.05 wt%</text>
<text x="34.6" y="175.60" font-family="Liberation Sans, sans-serif" font-weight="bold" font-size="11" fill="#000">K<tspan font-size="6.8" font-weight="normal" dy="3.6">3</tspan><tspan dy="-3.6">Fe(C</tspan><tspan font-size="6.8" font-weight="normal" dy="3.6">2</tspan><tspan dy="-3.6">O</tspan><tspan font-size="6.8" font-weight="normal" dy="3.6">4</tspan><tspan dy="-3.6">)</tspan><tspan font-size="6.8" font-weight="normal" dy="3.6">3</tspan></text>
<text x="34.6" y="194.40" font-family="Liberation Sans, sans-serif" font-weight="bold" font-size="11" fill="#000">0.03 wt%</text>
<text x="34.6" y="221.40" font-family="Liberation Sans, sans-serif" font-weight="bold" font-size="11" fill="#000">K<tspan font-size="6.8" font-weight="normal" dy="3.6">3</tspan><tspan dy="-3.6">Fe(C</tspan><tspan font-size="6.8" font-weight="normal" dy="3.6">2</tspan><tspan dy="-3.6">O</tspan><tspan font-size="6.8" font-weight="normal" dy="3.6">4</tspan><tspan dy="-3.6">)</tspan><tspan font-size="6.8" font-weight="normal" dy="3.6">3</tspan></text>
<text x="34.6" y="239.80" font-family="Liberation Sans, sans-serif" font-weight="bold" font-size="11" fill="#000">0.005 wt%</text>
<text x="9.3" y="22" font-family="Liberation Serif, serif" font-weight="bold" font-size="19" fill="#000">(a)</text>
<g transform="translate(94.9 0) scale(0.96 1)"><text x="0" y="11.6" font-family="Liberation Sans, sans-serif" font-weight="bold" font-size="13.3" fill="#ff0000">WO<tspan font-size="8.2" dy="6">3</tspan><tspan dy="-6"> peak</tspan></text></g>
<g transform="translate(163.3 0) scale(0.94 1)"><text x="0" y="11.4" font-family="Liberation Sans, sans-serif" font-weight="bold" font-size="13.3" fill="#0000ff">W metal peak</text></g>
<text x="104.00" y="31.2" font-family="Liberation Sans, sans-serif" font-weight="bold" font-size="9.9" fill="#ff0000">4f<tspan font-size="5.6" font-weight="normal" dx="0.3" dy="-5.6">5/2</tspan></text>
<text x="135.80" y="31.2" font-family="Liberation Sans, sans-serif" font-weight="bold" font-size="9.9" fill="#ff0000">4f<tspan font-size="5.6" font-weight="normal" dx="0.3" dy="-5.6">7/2</tspan></text>
<text x="176.30" y="31.2" font-family="Liberation Sans, sans-serif" font-weight="bold" font-size="9.9" fill="#0000ff">4f<tspan font-size="5.6" font-weight="normal" dx="0.3" dy="-5.6">5/2</tspan></text>
<text x="210.80" y="31.2" font-family="Liberation Sans, sans-serif" font-weight="bold" font-size="9.9" fill="#0000ff">4f<tspan font-size="5.6" font-weight="normal" dx="0.3" dy="-5.6">7/2</tspan></text>
<text x="347.4" y="22" font-family="Liberation Serif, serif" font-weight="bold" font-size="19" fill="#000">(b)</text>
<path d="M369.4 139.2V33.9H631.2V138.6" fill="none" stroke="#000" stroke-width="1.6"/>
<path d="M369.4 144.4V247.6H631.2V144.6" fill="none" stroke="#000" stroke-width="1.6"/>
<line x1="365" y1="33.9" x2="369.4" y2="33.9" stroke="#000" stroke-width="1.6"/>
<path d="M365.2 140.6L374 137.4M365.2 144.6L374 141.4" stroke="#000" stroke-width="1.3"/>
<path d="M627 141.8L636 137.9M627 145L636 141.2" stroke="#000" stroke-width="1.3"/>
<path d="M365 33.80H369.4M365 69.00H369.4M365 104.20H369.4M365 139.40H369.4M367 51.40H369.4M367 86.60H369.4M367 121.80H369.4M365 141.82H369.4M365 177.08H369.4M365 212.34H369.4M365 247.60H369.4M367 159.45H369.4M367 194.71H369.4M367 229.97H369.4M375.49 247.6V250.30M380.35 247.6V250.30M384.56 247.6V250.30M388.28 247.6V250.30M391.60 247.6V252.80M413.45 247.6V250.30M426.24 247.6V250.30M435.31 247.6V250.30M442.35 247.6V250.30M448.09 247.6V250.30M452.95 247.6V250.30M457.16 247.6V250.30M460.88 247.6V250.30M464.20 247.6V252.80M486.05 247.6V250.30M498.84 247.6V250.30M507.91 247.6V250.30M514.95 247.6V250.30M520.69 247.6V250.30M525.55 247.6V250.30M529.76 247.6V250.30M533.48 247.6V250.30M536.80 247.6V252.80M558.65 247.6V250.30M571.44 247.6V250.30M580.51 247.6V250.30M587.55 247.6V250.30M593.29 247.6V250.30M598.15 247.6V250.30M602.36 247.6V250.30M606.08 247.6V250.30M609.40 247.6V252.80M631.25 247.6V250.30" stroke="#000" stroke-width="1.4"/>
<text x="363.4" y="38.20" font-family="Liberation Sans, sans-serif" font-weight="bold" font-size="13.4" text-anchor="end" fill="#000">90</text>
<text x="363.4" y="72.90" font-family="Liberation Sans, sans-serif" font-weight="bold" font-size="13.4" text-anchor="end" fill="#000">80</text>
<text x="363.4" y="108.10" font-family="Liberation Sans, sans-serif" font-weight="bold" font-size="13.4" text-anchor="end" fill="#000">70</text>
<text x="363.4" y="143.30" font-family="Liberation Sans, sans-serif" font-weight="bold" font-size="13.4" text-anchor="end" fill="#000">60</text>
<text x="363.4" y="180.98" font-family="Liberation Sans, sans-serif" font-weight="bold" font-size="13.4" text-anchor="end" fill="#000">30</text>
<text x="363.4" y="216.24" font-family="Liberation Sans, sans-serif" font-weight="bold" font-size="13.4" text-anchor="end" fill="#000">20</text>
<text x="363.4" y="251.50" font-family="Liberation Sans, sans-serif" font-weight="bold" font-size="13.4" text-anchor="end" fill="#000">10</text>
<text x="391.30" y="266.9" font-family="Liberation Sans, sans-serif" font-weight="bold" font-size="13" text-anchor="middle" fill="#000">0.001</text>
<text x="464.20" y="266.9" font-family="Liberation Sans, sans-serif" font-weight="bold" font-size="13" text-anchor="middle" fill="#000">0.01</text>
<text x="537.00" y="266.9" font-family="Liberation Sans, sans-serif" font-weight="bold" font-size="13" text-anchor="middle" fill="#000">0.1</text>
<text x="610.20" y="266.9" font-family="Liberation Sans, sans-serif" font-weight="bold" font-size="13" text-anchor="middle" fill="#000">1</text>
<g transform="translate(404.5 0) scale(0.9 1)"><text x="0" y="287.2" font-family="Liberation Sans, sans-serif" font-weight="bold" font-size="14.2" fill="#000">K<tspan font-size="9" dy="4">3</tspan><tspan dy="-4">Fe(C</tspan><tspan font-size="9" dy="4">2</tspan><tspan dy="-4">O</tspan><tspan font-size="9" dy="4">4</tspan><tspan dy="-4">)</tspan><tspan font-size="9" dy="4">3</tspan><tspan dy="-4"> concentration [wt%]</tspan></text></g>
<text transform="translate(340.8 225.4) rotate(-90)" font-family="Liberation Sans, sans-serif" font-weight="bold" font-size="14.5" textLength="166.2" lengthAdjust="spacingAndGlyphs" fill="#000">Relative percentage [%]</text>
<text x="437.9" y="48.7" font-family="Liberation Sans, sans-serif" font-weight="bold" font-size="12.3" fill="#0a0af0">Region</text>
<rect x="489.0" y="40.5" width="1.6" height="8.2" fill="#2020e0"/>
<text x="500.9" y="48.7" font-family="Liberation Sans, sans-serif" font-weight="bold" font-size="12.3" fill="#0a0af0">Region</text>
<rect x="551.4" y="40.2" width="1.6" height="8.5" fill="#3030d8"/>
<rect x="554.7" y="40.2" width="1.6" height="8.5" fill="#3030d8"/>
<path d="M482 56.7H494.4M500.5 56.7H513.5" stroke="#0a0af0" stroke-width="1.8"/>
<path d="M473.6 56.7L482.5 53.9L482.5 59.5Z M521.6 56.7L512.7 53.9L512.7 59.5Z" fill="#0a0af0"/>
<defs><radialGradient id="gb" cx="0.5" cy="0.5" r="0.5" fx="0.36" fy="0.34"><stop offset="0" stop-color="#ffffff"/><stop offset="0.18" stop-color="#ffffff"/><stop offset="0.34" stop-color="#b8b8ff"/><stop offset="0.55" stop-color="#5858f4"/><stop offset="1" stop-color="#4a4ae8"/></radialGradient><radialGradient id="gr" cx="0.5" cy="0.5" r="0.5" fx="0.36" fy="0.34"><stop offset="0" stop-color="#ffffff"/><stop offset="0.18" stop-color="#ffffff"/><stop offset="0.34" stop-color="#ffb8b8"/><stop offset="0.55" stop-color="#fa3232"/><stop offset="1" stop-color="#ec2a2a"/></radialGradient></defs>
<path d="M442.35 101.10C459.29 105.09 481.65 111.64 498.84 114.41C503.63 115.18 510.63 115.01 514.95 112.79C537.59 101.14 565.77 81.99 587.55 68.79" fill="none" stroke="#5a5af2" stroke-width="2.1" stroke-linejoin="round"/>
<path d="M442.35 180.96C459.29 176.77 481.65 170.04 498.84 167.00C503.61 166.15 510.65 165.85 514.95 168.09C537.69 179.96 565.77 199.73 587.55 213.29" fill="none" stroke="#f23a3a" stroke-width="2.1" stroke-linejoin="round"/>
<circle cx="442.35" cy="101.10" r="4.5" fill="url(#gb)"/>
<circle cx="498.84" cy="114.41" r="4.5" fill="url(#gb)"/>
<circle cx="514.95" cy="112.79" r="4.5" fill="url(#gb)"/>
<circle cx="587.55" cy="68.79" r="4.5" fill="url(#gb)"/>
<circle cx="442.35" cy="180.96" r="4.5" fill="url(#gr)"/>
<circle cx="498.84" cy="167.00" r="4.5" fill="url(#gr)"/>
<circle cx="514.95" cy="168.09" r="4.5" fill="url(#gr)"/>
<circle cx="587.55" cy="213.29" r="4.5" fill="url(#gr)"/>
<path d="M497.9 34.70V41.70M497.9 48.45V55.45M497.9 62.20V69.20M497.9 75.95V82.95M497.9 89.70V96.70M497.9 103.45V110.45M497.9 117.20V124.20M497.9 130.95V137.95M497.9 144.70V151.70M497.9 158.45V165.45M497.9 172.20V179.20M497.9 185.95V192.95M497.9 199.70V206.70M497.9 213.45V220.45M497.9 227.20V234.20M497.9 240.95V247.95" stroke="#111" stroke-width="2"/>
<path d="M550.9 130.4H556.7M567.7 130.4H573.5" stroke="#5a5af2" stroke-width="2"/>
<circle cx="562.3" cy="130.4" r="4.2" fill="url(#gb)"/>
<g transform="translate(576.2 0) scale(0.93 1)"><text x="0" y="133.9" font-family="Liberation Sans, sans-serif" font-weight="bold" font-size="13.4" fill="#5a5af2">W metal</text></g>
<path d="M550.9 148.1H556.7M567.7 148.1H573.5" stroke="#f23a3a" stroke-width="2"/>
<circle cx="562.3" cy="148.1" r="4.2" fill="url(#gr)"/>
<g transform="translate(576.2 0) scale(0.93 1)"><text x="0" y="151.6" font-family="Liberation Sans, sans-serif" font-weight="bold" font-size="13.4" fill="#f23a3a">WO<tspan dy="3.6" font-size="12.2" font-weight="normal" stroke="#f23a3a" stroke-width="0.3">3</tspan></text></g>
</svg></body></html>
